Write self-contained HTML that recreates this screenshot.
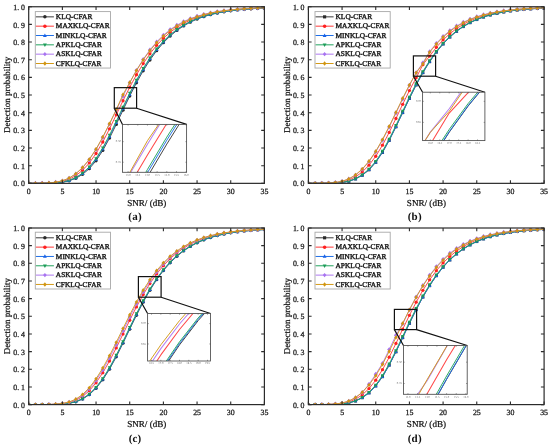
<!DOCTYPE html>
<html><head><meta charset="utf-8"><title>Detection probability vs SNR</title>
<style>html,body{margin:0;padding:0;background:#fff;}body{width:550px;height:447px;overflow:hidden;}svg{display:block;}text{text-rendering:geometricPrecision;}</style>
</head><body>
<svg width="550" height="447" viewBox="0 0 550 447">
<rect width="550" height="447" fill="#fff"/>
<clipPath id="clipa"><rect x="28.7" y="6.75" width="235.7" height="176.6"/></clipPath>
<g clip-path="url(#clipa)" fill="none" stroke-linejoin="round">
<polyline points="28.7,183.35 35.43,183.34 42.17,183.32 48.9,183.23 55.64,182.96 62.37,182.27 69.11,180.82 75.84,178.28 82.57,174.34 89.31,168.64 96.04,160.74 102.78,150.47 109.51,138.12 116.25,124.4 122.98,110.14 129.71,96.09 136.45,82.83 143.18,70.74 149.92,60 156.65,50.67 163.39,42.72 170.12,36.03 176.85,30.47 183.59,25.89 190.32,22.14 197.06,19.1 203.79,16.64 210.53,14.66 217.26,13.06 223.99,11.78 230.73,10.76 237.46,9.94 244.2,9.29 250.93,8.77 257.67,8.36 264.4,8.03" stroke="#3a3a3a" stroke-width="0.9"/>
<circle cx="28.7" cy="183.35" r="1.65" fill="#2a2a2a"/>
<circle cx="35.43" cy="183.34" r="1.65" fill="#2a2a2a"/>
<circle cx="42.17" cy="183.32" r="1.65" fill="#2a2a2a"/>
<circle cx="48.9" cy="183.23" r="1.65" fill="#2a2a2a"/>
<circle cx="55.64" cy="182.96" r="1.65" fill="#2a2a2a"/>
<circle cx="62.37" cy="182.27" r="1.65" fill="#2a2a2a"/>
<circle cx="69.11" cy="180.82" r="1.65" fill="#2a2a2a"/>
<circle cx="75.84" cy="178.28" r="1.65" fill="#2a2a2a"/>
<circle cx="82.57" cy="174.34" r="1.65" fill="#2a2a2a"/>
<circle cx="89.31" cy="168.64" r="1.65" fill="#2a2a2a"/>
<circle cx="96.04" cy="160.74" r="1.65" fill="#2a2a2a"/>
<circle cx="102.78" cy="150.47" r="1.65" fill="#2a2a2a"/>
<circle cx="109.51" cy="138.12" r="1.65" fill="#2a2a2a"/>
<circle cx="116.25" cy="124.4" r="1.65" fill="#2a2a2a"/>
<circle cx="122.98" cy="110.14" r="1.65" fill="#2a2a2a"/>
<circle cx="129.71" cy="96.09" r="1.65" fill="#2a2a2a"/>
<circle cx="136.45" cy="82.83" r="1.65" fill="#2a2a2a"/>
<circle cx="143.18" cy="70.74" r="1.65" fill="#2a2a2a"/>
<circle cx="149.92" cy="60" r="1.65" fill="#2a2a2a"/>
<circle cx="156.65" cy="50.67" r="1.65" fill="#2a2a2a"/>
<circle cx="163.39" cy="42.72" r="1.65" fill="#2a2a2a"/>
<circle cx="170.12" cy="36.03" r="1.65" fill="#2a2a2a"/>
<circle cx="176.85" cy="30.47" r="1.65" fill="#2a2a2a"/>
<circle cx="183.59" cy="25.89" r="1.65" fill="#2a2a2a"/>
<circle cx="190.32" cy="22.14" r="1.65" fill="#2a2a2a"/>
<circle cx="197.06" cy="19.1" r="1.65" fill="#2a2a2a"/>
<circle cx="203.79" cy="16.64" r="1.65" fill="#2a2a2a"/>
<circle cx="210.53" cy="14.66" r="1.65" fill="#2a2a2a"/>
<circle cx="217.26" cy="13.06" r="1.65" fill="#2a2a2a"/>
<circle cx="223.99" cy="11.78" r="1.65" fill="#2a2a2a"/>
<circle cx="230.73" cy="10.76" r="1.65" fill="#2a2a2a"/>
<circle cx="237.46" cy="9.94" r="1.65" fill="#2a2a2a"/>
<circle cx="244.2" cy="9.29" r="1.65" fill="#2a2a2a"/>
<circle cx="250.93" cy="8.77" r="1.65" fill="#2a2a2a"/>
<circle cx="257.67" cy="8.36" r="1.65" fill="#2a2a2a"/>
<circle cx="264.4" cy="8.03" r="1.65" fill="#2a2a2a"/>
<polyline points="28.7,183.34 35.43,183.32 42.17,183.26 48.9,183.08 55.64,182.6 62.37,181.48 69.11,179.29 75.84,175.63 82.57,170.25 89.31,162.94 96.04,153.51 102.78,141.99 109.51,128.85 116.25,114.84 122.98,100.75 129.71,87.25 136.45,74.77 143.18,63.58 149.92,53.78 156.65,45.37 163.39,38.26 170.12,32.32 176.85,27.42 183.59,23.39 190.32,20.12 197.06,17.46 203.79,15.32 210.53,13.59 217.26,12.21 223.99,11.1 230.73,10.22 237.46,9.51 244.2,8.95 250.93,8.5 257.67,8.14 264.4,7.85" stroke="#ff4a4a" stroke-width="1.0"/>
<circle cx="28.7" cy="183.34" r="1.65" fill="#ff2020"/>
<circle cx="35.43" cy="183.32" r="1.65" fill="#ff2020"/>
<circle cx="42.17" cy="183.26" r="1.65" fill="#ff2020"/>
<circle cx="48.9" cy="183.08" r="1.65" fill="#ff2020"/>
<circle cx="55.64" cy="182.6" r="1.65" fill="#ff2020"/>
<circle cx="62.37" cy="181.48" r="1.65" fill="#ff2020"/>
<circle cx="69.11" cy="179.29" r="1.65" fill="#ff2020"/>
<circle cx="75.84" cy="175.63" r="1.65" fill="#ff2020"/>
<circle cx="82.57" cy="170.25" r="1.65" fill="#ff2020"/>
<circle cx="89.31" cy="162.94" r="1.65" fill="#ff2020"/>
<circle cx="96.04" cy="153.51" r="1.65" fill="#ff2020"/>
<circle cx="102.78" cy="141.99" r="1.65" fill="#ff2020"/>
<circle cx="109.51" cy="128.85" r="1.65" fill="#ff2020"/>
<circle cx="116.25" cy="114.84" r="1.65" fill="#ff2020"/>
<circle cx="122.98" cy="100.75" r="1.65" fill="#ff2020"/>
<circle cx="129.71" cy="87.25" r="1.65" fill="#ff2020"/>
<circle cx="136.45" cy="74.77" r="1.65" fill="#ff2020"/>
<circle cx="143.18" cy="63.58" r="1.65" fill="#ff2020"/>
<circle cx="149.92" cy="53.78" r="1.65" fill="#ff2020"/>
<circle cx="156.65" cy="45.37" r="1.65" fill="#ff2020"/>
<circle cx="163.39" cy="38.26" r="1.65" fill="#ff2020"/>
<circle cx="170.12" cy="32.32" r="1.65" fill="#ff2020"/>
<circle cx="176.85" cy="27.42" r="1.65" fill="#ff2020"/>
<circle cx="183.59" cy="23.39" r="1.65" fill="#ff2020"/>
<circle cx="190.32" cy="20.12" r="1.65" fill="#ff2020"/>
<circle cx="197.06" cy="17.46" r="1.65" fill="#ff2020"/>
<circle cx="203.79" cy="15.32" r="1.65" fill="#ff2020"/>
<circle cx="210.53" cy="13.59" r="1.65" fill="#ff2020"/>
<circle cx="217.26" cy="12.21" r="1.65" fill="#ff2020"/>
<circle cx="223.99" cy="11.1" r="1.65" fill="#ff2020"/>
<circle cx="230.73" cy="10.22" r="1.65" fill="#ff2020"/>
<circle cx="237.46" cy="9.51" r="1.65" fill="#ff2020"/>
<circle cx="244.2" cy="8.95" r="1.65" fill="#ff2020"/>
<circle cx="250.93" cy="8.5" r="1.65" fill="#ff2020"/>
<circle cx="257.67" cy="8.14" r="1.65" fill="#ff2020"/>
<circle cx="264.4" cy="7.85" r="1.65" fill="#ff2020"/>
<polyline points="28.7,183.35 35.43,183.34 42.17,183.31 48.9,183.21 55.64,182.92 62.37,182.16 69.11,180.59 75.84,177.86 82.57,173.67 89.31,167.67 96.04,159.48 102.78,148.96 109.51,136.43 116.25,122.63 122.98,108.38 129.71,94.42 136.45,81.3 143.18,69.36 149.92,58.8 156.65,49.64 163.39,41.85 170.12,35.3 176.85,29.87 183.59,25.4 190.32,21.75 197.06,18.78 203.79,16.38 210.53,14.45 217.26,12.89 223.99,11.65 230.73,10.65 237.46,9.86 244.2,9.22 250.93,8.72 257.67,8.32 264.4,8" stroke="#1f6fe8" stroke-width="0.9"/>
<path d="M28.7 181.37L30.52 184.67L26.88 184.67Z" fill="#1a62e6"/>
<path d="M35.43 181.36L37.25 184.66L33.62 184.66Z" fill="#1a62e6"/>
<path d="M42.17 181.33L43.98 184.63L40.35 184.63Z" fill="#1a62e6"/>
<path d="M48.9 181.23L50.72 184.53L47.09 184.53Z" fill="#1a62e6"/>
<path d="M55.64 180.94L57.45 184.24L53.82 184.24Z" fill="#1a62e6"/>
<path d="M62.37 180.18L64.19 183.48L60.56 183.48Z" fill="#1a62e6"/>
<path d="M69.11 178.61L70.92 181.91L67.29 181.91Z" fill="#1a62e6"/>
<path d="M75.84 175.88L77.66 179.18L74.03 179.18Z" fill="#1a62e6"/>
<path d="M82.57 171.69L84.39 174.99L80.76 174.99Z" fill="#1a62e6"/>
<path d="M89.31 165.69L91.12 168.99L87.49 168.99Z" fill="#1a62e6"/>
<path d="M96.04 157.5L97.86 160.8L94.23 160.8Z" fill="#1a62e6"/>
<path d="M102.78 146.98L104.59 150.28L100.96 150.28Z" fill="#1a62e6"/>
<path d="M109.51 134.45L111.33 137.75L107.7 137.75Z" fill="#1a62e6"/>
<path d="M116.25 120.65L118.06 123.95L114.43 123.95Z" fill="#1a62e6"/>
<path d="M122.98 106.4L124.8 109.7L121.17 109.7Z" fill="#1a62e6"/>
<path d="M129.71 92.44L131.53 95.74L127.9 95.74Z" fill="#1a62e6"/>
<path d="M136.45 79.32L138.26 82.62L134.63 82.62Z" fill="#1a62e6"/>
<path d="M143.18 67.38L145 70.68L141.37 70.68Z" fill="#1a62e6"/>
<path d="M149.92 56.82L151.73 60.12L148.1 60.12Z" fill="#1a62e6"/>
<path d="M156.65 47.66L158.47 50.96L154.84 50.96Z" fill="#1a62e6"/>
<path d="M163.39 39.87L165.2 43.17L161.57 43.17Z" fill="#1a62e6"/>
<path d="M170.12 33.32L171.93 36.62L168.3 36.62Z" fill="#1a62e6"/>
<path d="M176.85 27.89L178.67 31.19L175.04 31.19Z" fill="#1a62e6"/>
<path d="M183.59 23.42L185.4 26.72L181.77 26.72Z" fill="#1a62e6"/>
<path d="M190.32 19.77L192.14 23.07L188.51 23.07Z" fill="#1a62e6"/>
<path d="M197.06 16.8L198.87 20.1L195.24 20.1Z" fill="#1a62e6"/>
<path d="M203.79 14.4L205.61 17.7L201.98 17.7Z" fill="#1a62e6"/>
<path d="M210.53 12.47L212.34 15.77L208.71 15.77Z" fill="#1a62e6"/>
<path d="M217.26 10.91L219.07 14.21L215.44 14.21Z" fill="#1a62e6"/>
<path d="M223.99 9.67L225.81 12.97L222.18 12.97Z" fill="#1a62e6"/>
<path d="M230.73 8.67L232.54 11.97L228.91 11.97Z" fill="#1a62e6"/>
<path d="M237.46 7.88L239.28 11.18L235.65 11.18Z" fill="#1a62e6"/>
<path d="M244.2 7.24L246.01 10.54L242.38 10.54Z" fill="#1a62e6"/>
<path d="M250.93 6.74L252.75 10.04L249.12 10.04Z" fill="#1a62e6"/>
<path d="M257.67 6.34L259.48 9.64L255.85 9.64Z" fill="#1a62e6"/>
<path d="M264.4 6.02L266.21 9.32L262.58 9.32Z" fill="#1a62e6"/>
<polyline points="28.7,183.35 35.43,183.34 42.17,183.31 48.9,183.2 55.64,182.87 62.37,182.06 69.11,180.39 75.84,177.51 82.57,173.11 89.31,166.87 96.04,158.45 102.78,147.73 109.51,135.08 116.25,121.22 122.98,106.99 129.71,93.1 136.45,80.09 143.18,68.29 149.92,57.86 156.65,48.84 163.39,41.18 170.12,34.74 176.85,29.41 183.59,25.02 190.32,21.44 197.06,18.53 203.79,16.18 210.53,14.29 217.26,12.77 223.99,11.55 230.73,10.57 237.46,9.79 244.2,9.17 250.93,8.68 257.67,8.28 264.4,7.97" stroke="#22a35e" stroke-width="0.9"/>
<path d="M28.7 185.33L30.52 182.03L26.88 182.03Z" fill="#1c9c58"/>
<path d="M35.43 185.32L37.25 182.02L33.62 182.02Z" fill="#1c9c58"/>
<path d="M42.17 185.29L43.98 181.99L40.35 181.99Z" fill="#1c9c58"/>
<path d="M48.9 185.18L50.72 181.88L47.09 181.88Z" fill="#1c9c58"/>
<path d="M55.64 184.85L57.45 181.55L53.82 181.55Z" fill="#1c9c58"/>
<path d="M62.37 184.04L64.19 180.74L60.56 180.74Z" fill="#1c9c58"/>
<path d="M69.11 182.37L70.92 179.07L67.29 179.07Z" fill="#1c9c58"/>
<path d="M75.84 179.49L77.66 176.19L74.03 176.19Z" fill="#1c9c58"/>
<path d="M82.57 175.09L84.39 171.79L80.76 171.79Z" fill="#1c9c58"/>
<path d="M89.31 168.85L91.12 165.55L87.49 165.55Z" fill="#1c9c58"/>
<path d="M96.04 160.43L97.86 157.13L94.23 157.13Z" fill="#1c9c58"/>
<path d="M102.78 149.71L104.59 146.41L100.96 146.41Z" fill="#1c9c58"/>
<path d="M109.51 137.06L111.33 133.76L107.7 133.76Z" fill="#1c9c58"/>
<path d="M116.25 123.2L118.06 119.9L114.43 119.9Z" fill="#1c9c58"/>
<path d="M122.98 108.97L124.8 105.67L121.17 105.67Z" fill="#1c9c58"/>
<path d="M129.71 95.08L131.53 91.78L127.9 91.78Z" fill="#1c9c58"/>
<path d="M136.45 82.07L138.26 78.77L134.63 78.77Z" fill="#1c9c58"/>
<path d="M143.18 70.27L145 66.97L141.37 66.97Z" fill="#1c9c58"/>
<path d="M149.92 59.84L151.73 56.54L148.1 56.54Z" fill="#1c9c58"/>
<path d="M156.65 50.82L158.47 47.52L154.84 47.52Z" fill="#1c9c58"/>
<path d="M163.39 43.16L165.2 39.86L161.57 39.86Z" fill="#1c9c58"/>
<path d="M170.12 36.72L171.93 33.42L168.3 33.42Z" fill="#1c9c58"/>
<path d="M176.85 31.39L178.67 28.09L175.04 28.09Z" fill="#1c9c58"/>
<path d="M183.59 27L185.4 23.7L181.77 23.7Z" fill="#1c9c58"/>
<path d="M190.32 23.42L192.14 20.12L188.51 20.12Z" fill="#1c9c58"/>
<path d="M197.06 20.51L198.87 17.21L195.24 17.21Z" fill="#1c9c58"/>
<path d="M203.79 18.16L205.61 14.86L201.98 14.86Z" fill="#1c9c58"/>
<path d="M210.53 16.27L212.34 12.97L208.71 12.97Z" fill="#1c9c58"/>
<path d="M217.26 14.75L219.07 11.45L215.44 11.45Z" fill="#1c9c58"/>
<path d="M223.99 13.53L225.81 10.23L222.18 10.23Z" fill="#1c9c58"/>
<path d="M230.73 12.55L232.54 9.25L228.91 9.25Z" fill="#1c9c58"/>
<path d="M237.46 11.77L239.28 8.47L235.65 8.47Z" fill="#1c9c58"/>
<path d="M244.2 11.15L246.01 7.85L242.38 7.85Z" fill="#1c9c58"/>
<path d="M250.93 10.66L252.75 7.36L249.12 7.36Z" fill="#1c9c58"/>
<path d="M257.67 10.26L259.48 6.96L255.85 6.96Z" fill="#1c9c58"/>
<path d="M264.4 9.95L266.21 6.65L262.58 6.65Z" fill="#1c9c58"/>
<polyline points="28.7,183.33 35.43,183.3 42.17,183.2 48.9,182.94 55.64,182.29 62.37,180.88 69.11,178.22 75.84,173.92 82.57,167.79 89.31,159.69 96.04,149.56 102.78,137.55 109.51,124.14 116.25,110.11 122.98,96.2 129.71,82.66 136.45,70.32 143.18,59.38 149.92,49.93 156.65,41.9 163.39,35.18 170.12,29.63 176.85,25.21 183.59,21.6 190.32,18.66 197.06,16.29 203.79,14.37 210.53,12.84 217.26,11.6 223.99,10.62 230.73,9.83 237.46,9.2 244.2,8.7 250.93,8.3 257.67,7.98 264.4,7.73" stroke="#b583f2" stroke-width="1.0"/>
<path d="M28.7 180.89L30.75 183.33L28.7 185.77L26.65 183.33Z" fill="#a874f0"/>
<path d="M35.43 180.86L37.48 183.3L35.43 185.74L33.39 183.3Z" fill="#a874f0"/>
<path d="M42.17 180.77L44.22 183.2L42.17 185.64L40.12 183.2Z" fill="#a874f0"/>
<path d="M48.9 180.5L50.95 182.94L48.9 185.38L46.86 182.94Z" fill="#a874f0"/>
<path d="M55.64 179.86L57.68 182.29L55.64 184.73L53.59 182.29Z" fill="#a874f0"/>
<path d="M62.37 178.44L64.42 180.88L62.37 183.32L60.32 180.88Z" fill="#a874f0"/>
<path d="M69.11 175.78L71.15 178.22L69.11 180.66L67.06 178.22Z" fill="#a874f0"/>
<path d="M75.84 171.49L77.89 173.92L75.84 176.36L73.79 173.92Z" fill="#a874f0"/>
<path d="M82.57 165.35L84.62 167.79L82.57 170.22L80.53 167.79Z" fill="#a874f0"/>
<path d="M89.31 157.25L91.36 159.69L89.31 162.13L87.26 159.69Z" fill="#a874f0"/>
<path d="M96.04 147.13L98.09 149.56L96.04 152L94 149.56Z" fill="#a874f0"/>
<path d="M102.78 135.11L104.82 137.55L102.78 139.98L100.73 137.55Z" fill="#a874f0"/>
<path d="M109.51 121.7L111.56 124.14L109.51 126.58L107.46 124.14Z" fill="#a874f0"/>
<path d="M116.25 107.67L118.29 110.11L116.25 112.54L114.2 110.11Z" fill="#a874f0"/>
<path d="M122.98 93.77L125.03 96.2L122.98 98.64L120.93 96.2Z" fill="#a874f0"/>
<path d="M129.71 80.23L131.76 82.66L129.71 85.1L127.67 82.66Z" fill="#a874f0"/>
<path d="M136.45 67.88L138.5 70.32L136.45 72.75L134.4 70.32Z" fill="#a874f0"/>
<path d="M143.18 56.95L145.23 59.38L143.18 61.82L141.14 59.38Z" fill="#a874f0"/>
<path d="M149.92 47.49L151.96 49.93L149.92 52.36L147.87 49.93Z" fill="#a874f0"/>
<path d="M156.65 39.46L158.7 41.9L156.65 44.34L154.6 41.9Z" fill="#a874f0"/>
<path d="M163.39 32.75L165.43 35.18L163.39 37.62L161.34 35.18Z" fill="#a874f0"/>
<path d="M170.12 27.2L172.17 29.63L170.12 32.07L168.07 29.63Z" fill="#a874f0"/>
<path d="M176.85 22.77L178.9 25.21L176.85 27.65L174.81 25.21Z" fill="#a874f0"/>
<path d="M183.59 19.16L185.64 21.6L183.59 24.03L181.54 21.6Z" fill="#a874f0"/>
<path d="M190.32 16.22L192.37 18.66L190.32 21.1L188.28 18.66Z" fill="#a874f0"/>
<path d="M197.06 13.85L199.1 16.29L197.06 18.72L195.01 16.29Z" fill="#a874f0"/>
<path d="M203.79 11.94L205.84 14.37L203.79 16.81L201.74 14.37Z" fill="#a874f0"/>
<path d="M210.53 10.4L212.57 12.84L210.53 15.27L208.48 12.84Z" fill="#a874f0"/>
<path d="M217.26 9.17L219.31 11.6L217.26 14.04L215.21 11.6Z" fill="#a874f0"/>
<path d="M223.99 8.18L226.04 10.62L223.99 13.05L221.95 10.62Z" fill="#a874f0"/>
<path d="M230.73 7.39L232.78 9.83L230.73 12.27L228.68 9.83Z" fill="#a874f0"/>
<path d="M237.46 6.76L239.51 9.2L237.46 11.64L235.42 9.2Z" fill="#a874f0"/>
<path d="M244.2 6.26L246.24 8.7L244.2 11.14L242.15 8.7Z" fill="#a874f0"/>
<path d="M250.93 5.86L252.98 8.3L250.93 10.74L248.88 8.3Z" fill="#a874f0"/>
<path d="M257.67 5.55L259.71 7.98L257.67 10.42L255.62 7.98Z" fill="#a874f0"/>
<path d="M264.4 5.29L266.45 7.73L264.4 10.17L262.35 7.73Z" fill="#a874f0"/>
<polyline points="28.7,183.33 35.43,183.3 42.17,183.19 48.9,182.92 55.64,182.25 62.37,180.8 69.11,178.09 75.84,173.72 82.57,167.49 89.31,159.31 96.04,149.11 102.78,137.04 109.51,123.61 116.25,109.58 122.98,94.64 129.71,82.57 136.45,70.57 143.18,59.89 149.92,50.61 156.65,42.69 163.39,36.02 170.12,30.47 176.85,25.89 183.59,22.15 190.32,19.11 197.06,16.65 203.79,14.66 210.53,13.07 217.26,11.79 223.99,10.77 230.73,9.95 237.46,9.3 244.2,8.78 250.93,8.36 257.67,8.03 264.4,7.77" stroke="#d49a17" stroke-width="0.9"/>
<path d="M28.7 181.27L30.43 183.33L28.7 185.39L26.97 183.33Z" fill="#d09512"/>
<path d="M35.43 181.23L37.17 183.3L35.43 185.36L33.7 183.3Z" fill="#d09512"/>
<path d="M42.17 181.13L43.9 183.19L42.17 185.26L40.44 183.19Z" fill="#d09512"/>
<path d="M48.9 180.86L50.64 182.92L48.9 184.99L47.17 182.92Z" fill="#d09512"/>
<path d="M55.64 180.19L57.37 182.25L55.64 184.32L53.9 182.25Z" fill="#d09512"/>
<path d="M62.37 178.74L64.1 180.8L62.37 182.86L60.64 180.8Z" fill="#d09512"/>
<path d="M69.11 176.02L70.84 178.09L69.11 180.15L67.37 178.09Z" fill="#d09512"/>
<path d="M75.84 171.65L77.57 173.72L75.84 175.78L74.11 173.72Z" fill="#d09512"/>
<path d="M82.57 165.43L84.31 167.49L82.57 169.56L80.84 167.49Z" fill="#d09512"/>
<path d="M89.31 157.25L91.04 159.31L89.31 161.37L87.58 159.31Z" fill="#d09512"/>
<path d="M96.04 147.05L97.78 149.11L96.04 151.17L94.31 149.11Z" fill="#d09512"/>
<path d="M102.78 134.98L104.51 137.04L102.78 139.1L101.04 137.04Z" fill="#d09512"/>
<path d="M109.51 121.55L111.24 123.61L109.51 125.67L107.78 123.61Z" fill="#d09512"/>
<path d="M116.25 107.52L117.98 109.58L116.25 111.64L114.51 109.58Z" fill="#d09512"/>
<path d="M122.98 92.58L124.71 94.64L122.98 96.71L121.25 94.64Z" fill="#d09512"/>
<path d="M129.71 80.51L131.45 82.57L129.71 84.63L127.98 82.57Z" fill="#d09512"/>
<path d="M136.45 68.5L138.18 70.57L136.45 72.63L134.72 70.57Z" fill="#d09512"/>
<path d="M143.18 57.83L144.92 59.89L143.18 61.95L141.45 59.89Z" fill="#d09512"/>
<path d="M149.92 48.55L151.65 50.61L149.92 52.67L148.18 50.61Z" fill="#d09512"/>
<path d="M156.65 40.62L158.38 42.69L156.65 44.75L154.92 42.69Z" fill="#d09512"/>
<path d="M163.39 33.95L165.12 36.02L163.39 38.08L161.65 36.02Z" fill="#d09512"/>
<path d="M170.12 28.4L171.85 30.47L170.12 32.53L168.39 30.47Z" fill="#d09512"/>
<path d="M176.85 23.83L178.59 25.89L176.85 27.96L175.12 25.89Z" fill="#d09512"/>
<path d="M183.59 20.09L185.32 22.15L183.59 24.22L181.86 22.15Z" fill="#d09512"/>
<path d="M190.32 17.05L192.06 19.11L190.32 21.17L188.59 19.11Z" fill="#d09512"/>
<path d="M197.06 14.59L198.79 16.65L197.06 18.71L195.32 16.65Z" fill="#d09512"/>
<path d="M203.79 12.6L205.52 14.66L203.79 16.73L202.06 14.66Z" fill="#d09512"/>
<path d="M210.53 11.01L212.26 13.07L210.53 15.13L208.79 13.07Z" fill="#d09512"/>
<path d="M217.26 9.73L218.99 11.79L217.26 13.85L215.53 11.79Z" fill="#d09512"/>
<path d="M223.99 8.7L225.73 10.77L223.99 12.83L222.26 10.77Z" fill="#d09512"/>
<path d="M230.73 7.89L232.46 9.95L230.73 12.01L229 9.95Z" fill="#d09512"/>
<path d="M237.46 7.23L239.2 9.3L237.46 11.36L235.73 9.3Z" fill="#d09512"/>
<path d="M244.2 6.71L245.93 8.78L244.2 10.84L242.46 8.78Z" fill="#d09512"/>
<path d="M250.93 6.3L252.66 8.36L250.93 10.42L249.2 8.36Z" fill="#d09512"/>
<path d="M257.67 5.97L259.4 8.03L257.67 10.09L255.93 8.03Z" fill="#d09512"/>
<path d="M264.4 5.71L266.13 7.77L264.4 9.83L262.67 7.77Z" fill="#d09512"/>
</g>
<rect x="28.7" y="6.75" width="235.7" height="176.6" fill="none" stroke="#2b2b2b" stroke-width="1.2"/>
<path d="M28.7 183.35v-3.2M28.7 6.75v3.2M62.37 183.35v-3.2M62.37 6.75v3.2M96.04 183.35v-3.2M96.04 6.75v3.2M129.71 183.35v-3.2M129.71 6.75v3.2M163.39 183.35v-3.2M163.39 6.75v3.2M197.06 183.35v-3.2M197.06 6.75v3.2M230.73 183.35v-3.2M230.73 6.75v3.2M264.4 183.35v-3.2M264.4 6.75v3.2M28.7 183.35h3.2M264.4 183.35h-3.2M28.7 165.69h3.2M264.4 165.69h-3.2M28.7 148.03h3.2M264.4 148.03h-3.2M28.7 130.37h3.2M264.4 130.37h-3.2M28.7 112.71h3.2M264.4 112.71h-3.2M28.7 95.05h3.2M264.4 95.05h-3.2M28.7 77.39h3.2M264.4 77.39h-3.2M28.7 59.73h3.2M264.4 59.73h-3.2M28.7 42.07h3.2M264.4 42.07h-3.2M28.7 24.41h3.2M264.4 24.41h-3.2M28.7 6.75h3.2M264.4 6.75h-3.2" stroke="#2b2b2b" stroke-width="1.1" fill="none"/>
<g font-family="'Liberation Serif', 'Times New Roman', serif" font-size="7.9" fill="#262626" stroke="#262626" stroke-width="0.28" letter-spacing="-0.08"><text x="28.7" y="193.95" text-anchor="middle">0</text><text x="62.37" y="193.95" text-anchor="middle">5</text><text x="96.04" y="193.95" text-anchor="middle">10</text><text x="129.71" y="193.95" text-anchor="middle">15</text><text x="163.39" y="193.95" text-anchor="middle">20</text><text x="197.06" y="193.95" text-anchor="middle">25</text><text x="230.73" y="193.95" text-anchor="middle">30</text><text x="264.4" y="193.95" text-anchor="middle">35</text><text x="24.8" y="186.45" text-anchor="end">0. 0</text><text x="24.8" y="168.79" text-anchor="end">0. 1</text><text x="24.8" y="151.13" text-anchor="end">0. 2</text><text x="24.8" y="133.47" text-anchor="end">0. 3</text><text x="24.8" y="115.81" text-anchor="end">0. 4</text><text x="24.8" y="98.15" text-anchor="end">0. 5</text><text x="24.8" y="80.49" text-anchor="end">0. 6</text><text x="24.8" y="62.83" text-anchor="end">0. 7</text><text x="24.8" y="45.17" text-anchor="end">0. 8</text><text x="24.8" y="27.51" text-anchor="end">0. 9</text><text x="24.8" y="9.85" text-anchor="end">1. 0</text></g>
<text x="146.75" y="205.85" text-anchor="middle" font-family="'Liberation Serif', 'Times New Roman', serif" font-size="9.1" fill="#111" stroke="#111" stroke-width="0.22">SNR/ (dB)</text>
<text transform="translate(9.8 94.95) rotate(-90)" text-anchor="middle" font-family="'Liberation Serif', 'Times New Roman', serif" font-size="8.95" fill="#111" stroke="#111" stroke-width="0.22">Detection probability</text>
<text x="135.05" y="220.45" text-anchor="middle" font-family="'Liberation Serif', 'Times New Roman', serif" font-size="11" font-weight="bold" fill="#111" letter-spacing="0.2">(a)</text>
<rect x="35.3" y="11.6" width="75.2" height="56.45" fill="#fff" stroke="#a8a8a8" stroke-width="0.9"/>
<line x1="35.9" y1="16.85" x2="53.9" y2="16.85" stroke="#3a3a3a" stroke-width="1.0"/>
<circle cx="44.9" cy="16.85" r="1.75" fill="#2a2a2a"/>
<text x="55.8" y="19.05" font-family="'Liberation Serif', 'Times New Roman', serif" font-size="7.35" fill="#1a1a1a" stroke="#1a1a1a" stroke-width="0.4" letter-spacing="0.05">KLQ-CFAR</text>
<line x1="35.9" y1="26.18" x2="53.9" y2="26.18" stroke="#ff4a4a" stroke-width="1.1"/>
<circle cx="44.9" cy="26.18" r="1.75" fill="#ff2020"/>
<text x="55.8" y="28.38" font-family="'Liberation Serif', 'Times New Roman', serif" font-size="7.35" fill="#1a1a1a" stroke="#1a1a1a" stroke-width="0.4" letter-spacing="0.05">MAXKLQ-CFAR</text>
<line x1="35.9" y1="35.51" x2="53.9" y2="35.51" stroke="#1f6fe8" stroke-width="1.0"/>
<path d="M44.9 33.41L46.82 36.91L42.98 36.91Z" fill="#1a62e6"/>
<text x="55.8" y="37.71" font-family="'Liberation Serif', 'Times New Roman', serif" font-size="7.35" fill="#1a1a1a" stroke="#1a1a1a" stroke-width="0.4" letter-spacing="0.05">MINKLQ-CFAR</text>
<line x1="35.9" y1="44.84" x2="53.9" y2="44.84" stroke="#22a35e" stroke-width="1.0"/>
<path d="M44.9 46.94L46.82 43.44L42.98 43.44Z" fill="#1c9c58"/>
<text x="55.8" y="47.04" font-family="'Liberation Serif', 'Times New Roman', serif" font-size="7.35" fill="#1a1a1a" stroke="#1a1a1a" stroke-width="0.4" letter-spacing="0.05">APKLQ-CFAR</text>
<line x1="35.9" y1="54.17" x2="53.9" y2="54.17" stroke="#b583f2" stroke-width="1.1"/>
<path d="M44.9 51.98L46.74 54.17L44.9 56.36L43.06 54.17Z" fill="#a874f0"/>
<text x="55.8" y="56.37" font-family="'Liberation Serif', 'Times New Roman', serif" font-size="7.35" fill="#1a1a1a" stroke="#1a1a1a" stroke-width="0.4" letter-spacing="0.05">ASKLQ-CFAR</text>
<line x1="35.9" y1="63.5" x2="53.9" y2="63.5" stroke="#d49a17" stroke-width="1.0"/>
<path d="M44.9 61.31L46.74 63.5L44.9 65.69L43.06 63.5Z" fill="#d09512"/>
<text x="55.8" y="65.7" font-family="'Liberation Serif', 'Times New Roman', serif" font-size="7.35" fill="#1a1a1a" stroke="#1a1a1a" stroke-width="0.4" letter-spacing="0.05">CFKLQ-CFAR</text>
<rect x="114.3" y="87.65" width="22.3" height="20.55" fill="none" stroke="#111" stroke-width="1.2"/>
<path d="M114.3 108.2L122.5 124.4M136.6 108.2L186.6 124.4" stroke="#111" stroke-width="1.2" fill="none"/>
<rect x="122.5" y="124.4" width="64.1" height="47.9" fill="#fff"/>
<clipPath id="clipia"><rect x="122.5" y="124.4" width="64.1" height="47.9"/></clipPath>
<g clip-path="url(#clipia)" fill="none" stroke-linejoin="round">
<polyline points="89.38,270.83 108.74,242.04 128.09,210.05 147.45,176.81 166.81,144.08 186.16,113.18 205.52,84.98 224.88,59.94" stroke="#3a3a3a" stroke-width="0.9500000000000001"/>
<polyline points="89.38,251.07 108.74,220.43 128.09,187.77 147.45,154.94 166.81,123.46 186.16,94.38 205.52,68.29 224.88,45.46" stroke="#ff4a4a" stroke-width="1.05"/>
<polyline points="89.38,267.3 108.74,238.1 128.09,205.93 147.45,172.71 166.81,140.17 186.16,109.59 205.52,81.78 224.88,57.15" stroke="#1f6fe8" stroke-width="0.9500000000000001"/>
<polyline points="89.38,264.45 108.74,234.95 128.09,202.65 147.45,169.47 166.81,137.1 186.16,106.77 205.52,79.27 224.88,54.97" stroke="#22a35e" stroke-width="0.9500000000000001"/>
<polyline points="89.38,240.7 108.74,209.45 128.09,176.74 147.45,144.34 166.81,112.78 186.16,84 205.52,58.52 224.88,36.47" stroke="#b583f2" stroke-width="1.05"/>
<polyline points="89.38,239.53 108.74,208.22 128.09,175.51 147.45,140.7 166.81,112.56 186.16,84.58 205.52,59.7 224.88,38.07" stroke="#d49a17" stroke-width="0.9500000000000001"/>
</g>
<rect x="122.5" y="124.4" width="64.1" height="47.9" fill="none" stroke="#4a4a4a" stroke-width="0.85"/>
<path d="M128.09 172.3v-1.2M128.09 124.4v1.2M137.77 172.3v-1.2M137.77 124.4v1.2M147.45 172.3v-1.2M147.45 124.4v1.2M157.13 172.3v-1.2M157.13 124.4v1.2M166.81 172.3v-1.2M166.81 124.4v1.2M176.49 172.3v-1.2M176.49 124.4v1.2M186.16 172.3v-1.2M186.16 124.4v1.2M122.5 162.23h1.2M186.6 162.23h-1.2M122.5 141.65h1.2M186.6 141.65h-1.2" stroke="#444" stroke-width="0.5" fill="none"/>
<g font-family="'Liberation Serif', 'Times New Roman', serif" font-size="2.9" fill="#666"><text x="128.09" y="175.7" text-anchor="middle">13.0</text><text x="137.77" y="175.7" text-anchor="middle">13.5</text><text x="147.45" y="175.7" text-anchor="middle">14.0</text><text x="157.13" y="175.7" text-anchor="middle">14.5</text><text x="166.81" y="175.7" text-anchor="middle">15.0</text><text x="176.49" y="175.7" text-anchor="middle">15.5</text><text x="186.16" y="175.7" text-anchor="middle">16.0</text><text x="120.9" y="163.03" text-anchor="end">0.45</text><text x="120.9" y="142.45" text-anchor="end">0.50</text></g>
<clipPath id="clipb"><rect x="308.4" y="6.75" width="235.7" height="176.6"/></clipPath>
<g clip-path="url(#clipb)" fill="none" stroke-linejoin="round">
<polyline points="308.4,183.35 315.13,183.34 321.87,183.33 328.6,183.27 335.34,183.06 342.07,182.5 348.81,181.25 355.54,178.93 362.27,175.24 369.01,169.84 375.74,162.32 382.48,152.45 389.21,140.41 395.95,126.85 402.68,112.61 409.41,98.47 416.15,85.03 422.88,72.7 429.62,61.72 436.35,52.15 443.09,43.96 449.82,37.07 456.55,31.33 463.29,26.59 470.02,22.72 476.76,19.57 483.49,17.02 490.23,14.96 496.96,13.3 503.69,11.98 510.43,10.92 517.16,10.07 523.9,9.39 530.63,8.85 537.37,8.42 544.1,8.08" stroke="#3a3a3a" stroke-width="0.9"/>
<rect x="306.91" y="181.86" width="2.97" height="2.97" fill="#2a2a2a"/>
<rect x="313.65" y="181.86" width="2.97" height="2.97" fill="#2a2a2a"/>
<rect x="320.38" y="181.84" width="2.97" height="2.97" fill="#2a2a2a"/>
<rect x="327.12" y="181.78" width="2.97" height="2.97" fill="#2a2a2a"/>
<rect x="333.85" y="181.58" width="2.97" height="2.97" fill="#2a2a2a"/>
<rect x="340.59" y="181.02" width="2.97" height="2.97" fill="#2a2a2a"/>
<rect x="347.32" y="179.76" width="2.97" height="2.97" fill="#2a2a2a"/>
<rect x="354.05" y="177.45" width="2.97" height="2.97" fill="#2a2a2a"/>
<rect x="360.79" y="173.76" width="2.97" height="2.97" fill="#2a2a2a"/>
<rect x="367.52" y="168.35" width="2.97" height="2.97" fill="#2a2a2a"/>
<rect x="374.26" y="160.83" width="2.97" height="2.97" fill="#2a2a2a"/>
<rect x="380.99" y="150.96" width="2.97" height="2.97" fill="#2a2a2a"/>
<rect x="387.73" y="138.93" width="2.97" height="2.97" fill="#2a2a2a"/>
<rect x="394.46" y="125.37" width="2.97" height="2.97" fill="#2a2a2a"/>
<rect x="401.19" y="111.13" width="2.97" height="2.97" fill="#2a2a2a"/>
<rect x="407.93" y="96.98" width="2.97" height="2.97" fill="#2a2a2a"/>
<rect x="414.66" y="83.54" width="2.97" height="2.97" fill="#2a2a2a"/>
<rect x="421.4" y="71.22" width="2.97" height="2.97" fill="#2a2a2a"/>
<rect x="428.13" y="60.23" width="2.97" height="2.97" fill="#2a2a2a"/>
<rect x="434.87" y="50.66" width="2.97" height="2.97" fill="#2a2a2a"/>
<rect x="441.6" y="42.48" width="2.97" height="2.97" fill="#2a2a2a"/>
<rect x="448.33" y="35.58" width="2.97" height="2.97" fill="#2a2a2a"/>
<rect x="455.07" y="29.84" width="2.97" height="2.97" fill="#2a2a2a"/>
<rect x="461.8" y="25.11" width="2.97" height="2.97" fill="#2a2a2a"/>
<rect x="468.54" y="21.23" width="2.97" height="2.97" fill="#2a2a2a"/>
<rect x="475.27" y="18.08" width="2.97" height="2.97" fill="#2a2a2a"/>
<rect x="482.01" y="15.53" width="2.97" height="2.97" fill="#2a2a2a"/>
<rect x="488.74" y="13.47" width="2.97" height="2.97" fill="#2a2a2a"/>
<rect x="495.47" y="11.82" width="2.97" height="2.97" fill="#2a2a2a"/>
<rect x="502.21" y="10.49" width="2.97" height="2.97" fill="#2a2a2a"/>
<rect x="508.94" y="9.43" width="2.97" height="2.97" fill="#2a2a2a"/>
<rect x="515.68" y="8.58" width="2.97" height="2.97" fill="#2a2a2a"/>
<rect x="522.41" y="7.91" width="2.97" height="2.97" fill="#2a2a2a"/>
<rect x="529.15" y="7.37" width="2.97" height="2.97" fill="#2a2a2a"/>
<rect x="535.88" y="6.94" width="2.97" height="2.97" fill="#2a2a2a"/>
<rect x="542.61" y="6.59" width="2.97" height="2.97" fill="#2a2a2a"/>
<polyline points="308.4,183.35 315.13,183.33 321.87,183.29 328.6,183.17 335.34,182.81 342.07,181.93 348.81,180.1 355.54,176.88 362.27,171.97 369.01,165.16 375.74,156.25 382.48,145.21 389.21,132.38 395.95,118.48 402.68,104.31 409.41,90.57 416.15,77.79 422.88,64.65 429.62,56.09 436.35,47.33 443.09,39.9 449.82,33.69 456.55,28.54 463.29,24.31 470.02,20.86 476.76,18.06 483.49,15.8 490.23,13.98 496.96,12.52 503.69,11.35 510.43,10.42 517.16,9.67 523.9,9.07 530.63,8.6 537.37,8.22 544.1,7.92" stroke="#ff4a4a" stroke-width="1.0"/>
<circle cx="308.4" cy="183.35" r="1.65" fill="#ff2020"/>
<circle cx="315.13" cy="183.33" r="1.65" fill="#ff2020"/>
<circle cx="321.87" cy="183.29" r="1.65" fill="#ff2020"/>
<circle cx="328.6" cy="183.17" r="1.65" fill="#ff2020"/>
<circle cx="335.34" cy="182.81" r="1.65" fill="#ff2020"/>
<circle cx="342.07" cy="181.93" r="1.65" fill="#ff2020"/>
<circle cx="348.81" cy="180.1" r="1.65" fill="#ff2020"/>
<circle cx="355.54" cy="176.88" r="1.65" fill="#ff2020"/>
<circle cx="362.27" cy="171.97" r="1.65" fill="#ff2020"/>
<circle cx="369.01" cy="165.16" r="1.65" fill="#ff2020"/>
<circle cx="375.74" cy="156.25" r="1.65" fill="#ff2020"/>
<circle cx="382.48" cy="145.21" r="1.65" fill="#ff2020"/>
<circle cx="389.21" cy="132.38" r="1.65" fill="#ff2020"/>
<circle cx="395.95" cy="118.48" r="1.65" fill="#ff2020"/>
<circle cx="402.68" cy="104.31" r="1.65" fill="#ff2020"/>
<circle cx="409.41" cy="90.57" r="1.65" fill="#ff2020"/>
<circle cx="416.15" cy="77.79" r="1.65" fill="#ff2020"/>
<circle cx="422.88" cy="64.65" r="1.65" fill="#ff2020"/>
<circle cx="429.62" cy="56.09" r="1.65" fill="#ff2020"/>
<circle cx="436.35" cy="47.33" r="1.65" fill="#ff2020"/>
<circle cx="443.09" cy="39.9" r="1.65" fill="#ff2020"/>
<circle cx="449.82" cy="33.69" r="1.65" fill="#ff2020"/>
<circle cx="456.55" cy="28.54" r="1.65" fill="#ff2020"/>
<circle cx="463.29" cy="24.31" r="1.65" fill="#ff2020"/>
<circle cx="470.02" cy="20.86" r="1.65" fill="#ff2020"/>
<circle cx="476.76" cy="18.06" r="1.65" fill="#ff2020"/>
<circle cx="483.49" cy="15.8" r="1.65" fill="#ff2020"/>
<circle cx="490.23" cy="13.98" r="1.65" fill="#ff2020"/>
<circle cx="496.96" cy="12.52" r="1.65" fill="#ff2020"/>
<circle cx="503.69" cy="11.35" r="1.65" fill="#ff2020"/>
<circle cx="510.43" cy="10.42" r="1.65" fill="#ff2020"/>
<circle cx="517.16" cy="9.67" r="1.65" fill="#ff2020"/>
<circle cx="523.9" cy="9.07" r="1.65" fill="#ff2020"/>
<circle cx="530.63" cy="8.6" r="1.65" fill="#ff2020"/>
<circle cx="537.37" cy="8.22" r="1.65" fill="#ff2020"/>
<circle cx="544.1" cy="7.92" r="1.65" fill="#ff2020"/>
<polyline points="308.4,183.35 315.13,183.34 321.87,183.33 328.6,183.27 335.34,183.06 342.07,182.49 348.81,181.22 355.54,178.88 362.27,175.15 369.01,169.7 375.74,162.14 382.48,152.22 389.21,140.16 395.95,126.58 402.68,112.34 409.41,98.2 416.15,84.79 422.88,72.49 429.62,61.53 436.35,51.98 443.09,43.83 449.82,36.95 456.55,31.23 463.29,26.51 470.02,22.65 476.76,19.51 483.49,16.97 490.23,14.92 496.96,13.28 503.69,11.96 510.43,10.9 517.16,10.05 523.9,9.38 530.63,8.84 537.37,8.41 544.1,8.07" stroke="#1f6fe8" stroke-width="0.9"/>
<path d="M308.4 181.37L310.21 184.67L306.58 184.67Z" fill="#1a62e6"/>
<path d="M315.13 181.36L316.95 184.66L313.32 184.66Z" fill="#1a62e6"/>
<path d="M321.87 181.35L323.68 184.65L320.05 184.65Z" fill="#1a62e6"/>
<path d="M328.6 181.29L330.42 184.59L326.79 184.59Z" fill="#1a62e6"/>
<path d="M335.34 181.08L337.15 184.38L333.52 184.38Z" fill="#1a62e6"/>
<path d="M342.07 180.51L343.89 183.81L340.26 183.81Z" fill="#1a62e6"/>
<path d="M348.81 179.24L350.62 182.54L346.99 182.54Z" fill="#1a62e6"/>
<path d="M355.54 176.9L357.35 180.2L353.72 180.2Z" fill="#1a62e6"/>
<path d="M362.27 173.17L364.09 176.47L360.46 176.47Z" fill="#1a62e6"/>
<path d="M369.01 167.72L370.82 171.02L367.19 171.02Z" fill="#1a62e6"/>
<path d="M375.74 160.16L377.56 163.46L373.93 163.46Z" fill="#1a62e6"/>
<path d="M382.48 150.24L384.29 153.54L380.66 153.54Z" fill="#1a62e6"/>
<path d="M389.21 138.18L391.03 141.48L387.4 141.48Z" fill="#1a62e6"/>
<path d="M395.95 124.6L397.76 127.9L394.13 127.9Z" fill="#1a62e6"/>
<path d="M402.68 110.36L404.49 113.66L400.86 113.66Z" fill="#1a62e6"/>
<path d="M409.41 96.22L411.23 99.52L407.6 99.52Z" fill="#1a62e6"/>
<path d="M416.15 82.81L417.96 86.11L414.33 86.11Z" fill="#1a62e6"/>
<path d="M422.88 70.51L424.7 73.81L421.07 73.81Z" fill="#1a62e6"/>
<path d="M429.62 59.55L431.43 62.85L427.8 62.85Z" fill="#1a62e6"/>
<path d="M436.35 50L438.17 53.3L434.54 53.3Z" fill="#1a62e6"/>
<path d="M443.09 41.85L444.9 45.15L441.27 45.15Z" fill="#1a62e6"/>
<path d="M449.82 34.97L451.63 38.27L448 38.27Z" fill="#1a62e6"/>
<path d="M456.55 29.25L458.37 32.55L454.74 32.55Z" fill="#1a62e6"/>
<path d="M463.29 24.53L465.1 27.83L461.47 27.83Z" fill="#1a62e6"/>
<path d="M470.02 20.67L471.84 23.97L468.21 23.97Z" fill="#1a62e6"/>
<path d="M476.76 17.53L478.57 20.83L474.94 20.83Z" fill="#1a62e6"/>
<path d="M483.49 14.99L485.31 18.29L481.68 18.29Z" fill="#1a62e6"/>
<path d="M490.23 12.94L492.04 16.24L488.41 16.24Z" fill="#1a62e6"/>
<path d="M496.96 11.3L498.77 14.6L495.14 14.6Z" fill="#1a62e6"/>
<path d="M503.69 9.98L505.51 13.28L501.88 13.28Z" fill="#1a62e6"/>
<path d="M510.43 8.92L512.24 12.22L508.61 12.22Z" fill="#1a62e6"/>
<path d="M517.16 8.07L518.98 11.37L515.35 11.37Z" fill="#1a62e6"/>
<path d="M523.9 7.4L525.71 10.7L522.08 10.7Z" fill="#1a62e6"/>
<path d="M530.63 6.86L532.45 10.16L528.82 10.16Z" fill="#1a62e6"/>
<path d="M537.37 6.43L539.18 9.73L535.55 9.73Z" fill="#1a62e6"/>
<path d="M544.1 6.09L545.91 9.39L542.28 9.39Z" fill="#1a62e6"/>
<polyline points="308.4,183.35 315.13,183.34 321.87,183.32 328.6,183.26 335.34,183.03 342.07,182.42 348.81,181.08 355.54,178.62 362.27,174.72 369.01,169.06 375.74,161.29 382.48,151.19 389.21,138.99 395.95,125.35 402.68,111.11 409.41,97.02 416.15,83.69 422.88,71.51 429.62,60.67 436.35,51.25 443.09,43.2 449.82,36.43 456.55,30.8 463.29,26.16 470.02,22.37 476.76,19.28 483.49,16.79 490.23,14.77 496.96,13.16 503.69,11.86 510.43,10.82 517.16,9.99 523.9,9.33 530.63,8.8 537.37,8.38 544.1,8.05" stroke="#22a35e" stroke-width="0.9"/>
<path d="M308.4 185.33L310.21 182.03L306.58 182.03Z" fill="#1c9c58"/>
<path d="M315.13 185.32L316.95 182.02L313.32 182.02Z" fill="#1c9c58"/>
<path d="M321.87 185.3L323.68 182L320.05 182Z" fill="#1c9c58"/>
<path d="M328.6 185.24L330.42 181.94L326.79 181.94Z" fill="#1c9c58"/>
<path d="M335.34 185.01L337.15 181.71L333.52 181.71Z" fill="#1c9c58"/>
<path d="M342.07 184.4L343.89 181.1L340.26 181.1Z" fill="#1c9c58"/>
<path d="M348.81 183.06L350.62 179.76L346.99 179.76Z" fill="#1c9c58"/>
<path d="M355.54 180.6L357.35 177.3L353.72 177.3Z" fill="#1c9c58"/>
<path d="M362.27 176.7L364.09 173.4L360.46 173.4Z" fill="#1c9c58"/>
<path d="M369.01 171.04L370.82 167.74L367.19 167.74Z" fill="#1c9c58"/>
<path d="M375.74 163.27L377.56 159.97L373.93 159.97Z" fill="#1c9c58"/>
<path d="M382.48 153.17L384.29 149.87L380.66 149.87Z" fill="#1c9c58"/>
<path d="M389.21 140.97L391.03 137.67L387.4 137.67Z" fill="#1c9c58"/>
<path d="M395.95 127.33L397.76 124.03L394.13 124.03Z" fill="#1c9c58"/>
<path d="M402.68 113.09L404.49 109.79L400.86 109.79Z" fill="#1c9c58"/>
<path d="M409.41 99L411.23 95.7L407.6 95.7Z" fill="#1c9c58"/>
<path d="M416.15 85.67L417.96 82.37L414.33 82.37Z" fill="#1c9c58"/>
<path d="M422.88 73.49L424.7 70.19L421.07 70.19Z" fill="#1c9c58"/>
<path d="M429.62 62.65L431.43 59.35L427.8 59.35Z" fill="#1c9c58"/>
<path d="M436.35 53.23L438.17 49.93L434.54 49.93Z" fill="#1c9c58"/>
<path d="M443.09 45.18L444.9 41.88L441.27 41.88Z" fill="#1c9c58"/>
<path d="M449.82 38.41L451.63 35.11L448 35.11Z" fill="#1c9c58"/>
<path d="M456.55 32.78L458.37 29.48L454.74 29.48Z" fill="#1c9c58"/>
<path d="M463.29 28.14L465.1 24.84L461.47 24.84Z" fill="#1c9c58"/>
<path d="M470.02 24.35L471.84 21.05L468.21 21.05Z" fill="#1c9c58"/>
<path d="M476.76 21.26L478.57 17.96L474.94 17.96Z" fill="#1c9c58"/>
<path d="M483.49 18.77L485.31 15.47L481.68 15.47Z" fill="#1c9c58"/>
<path d="M490.23 16.75L492.04 13.45L488.41 13.45Z" fill="#1c9c58"/>
<path d="M496.96 15.14L498.77 11.84L495.14 11.84Z" fill="#1c9c58"/>
<path d="M503.69 13.84L505.51 10.54L501.88 10.54Z" fill="#1c9c58"/>
<path d="M510.43 12.8L512.24 9.5L508.61 9.5Z" fill="#1c9c58"/>
<path d="M517.16 11.97L518.98 8.67L515.35 8.67Z" fill="#1c9c58"/>
<path d="M523.9 11.31L525.71 8.01L522.08 8.01Z" fill="#1c9c58"/>
<path d="M530.63 10.78L532.45 7.48L528.82 7.48Z" fill="#1c9c58"/>
<path d="M537.37 10.36L539.18 7.06L535.55 7.06Z" fill="#1c9c58"/>
<path d="M544.1 10.03L545.91 6.73L542.28 6.73Z" fill="#1c9c58"/>
<polyline points="308.4,183.34 315.13,183.32 321.87,183.25 328.6,183.05 335.34,182.53 342.07,181.36 348.81,179.04 355.54,175.12 362.27,169.36 369.01,161.63 375.74,151.88 382.48,140.19 389.21,126.99 395.95,113 402.68,98.99 409.41,85.25 416.15,72.65 422.88,62.84 429.62,51.68 436.35,43.38 443.09,36.42 449.82,30.66 456.55,26.05 463.29,22.28 470.02,19.22 476.76,16.73 483.49,14.73 490.23,13.12 496.96,11.83 503.69,10.8 510.43,9.98 517.16,9.32 523.9,8.79 530.63,8.38 537.37,8.04 544.1,7.78" stroke="#b583f2" stroke-width="1.0"/>
<path d="M308.4 180.9L310.45 183.34L308.4 185.78L306.35 183.34Z" fill="#a874f0"/>
<path d="M315.13 180.88L317.18 183.32L315.13 185.75L313.09 183.32Z" fill="#a874f0"/>
<path d="M321.87 180.81L323.92 183.25L321.87 185.68L319.82 183.25Z" fill="#a874f0"/>
<path d="M328.6 180.61L330.65 183.05L328.6 185.48L326.56 183.05Z" fill="#a874f0"/>
<path d="M335.34 180.1L337.38 182.53L335.34 184.97L333.29 182.53Z" fill="#a874f0"/>
<path d="M342.07 178.92L344.12 181.36L342.07 183.79L340.02 181.36Z" fill="#a874f0"/>
<path d="M348.81 176.6L350.85 179.04L348.81 181.48L346.76 179.04Z" fill="#a874f0"/>
<path d="M355.54 172.69L357.59 175.12L355.54 177.56L353.49 175.12Z" fill="#a874f0"/>
<path d="M362.27 166.92L364.32 169.36L362.27 171.8L360.23 169.36Z" fill="#a874f0"/>
<path d="M369.01 159.19L371.06 161.63L369.01 164.07L366.96 161.63Z" fill="#a874f0"/>
<path d="M375.74 149.44L377.79 151.88L375.74 154.32L373.7 151.88Z" fill="#a874f0"/>
<path d="M382.48 137.76L384.52 140.19L382.48 142.63L380.43 140.19Z" fill="#a874f0"/>
<path d="M389.21 124.55L391.26 126.99L389.21 129.43L387.16 126.99Z" fill="#a874f0"/>
<path d="M395.95 110.56L397.99 113L395.95 115.43L393.9 113Z" fill="#a874f0"/>
<path d="M402.68 96.55L404.73 98.99L402.68 101.43L400.63 98.99Z" fill="#a874f0"/>
<path d="M409.41 82.81L411.46 85.25L409.41 87.69L407.37 85.25Z" fill="#a874f0"/>
<path d="M416.15 70.21L418.2 72.65L416.15 75.08L414.1 72.65Z" fill="#a874f0"/>
<path d="M422.88 60.4L424.93 62.84L422.88 65.28L420.84 62.84Z" fill="#a874f0"/>
<path d="M429.62 49.25L431.66 51.68L429.62 54.12L427.57 51.68Z" fill="#a874f0"/>
<path d="M436.35 40.95L438.4 43.38L436.35 45.82L434.3 43.38Z" fill="#a874f0"/>
<path d="M443.09 33.99L445.13 36.42L443.09 38.86L441.04 36.42Z" fill="#a874f0"/>
<path d="M449.82 28.22L451.87 30.66L449.82 33.1L447.77 30.66Z" fill="#a874f0"/>
<path d="M456.55 23.61L458.6 26.05L456.55 28.49L454.51 26.05Z" fill="#a874f0"/>
<path d="M463.29 19.84L465.34 22.28L463.29 24.72L461.24 22.28Z" fill="#a874f0"/>
<path d="M470.02 16.78L472.07 19.22L470.02 21.65L467.98 19.22Z" fill="#a874f0"/>
<path d="M476.76 14.3L478.8 16.73L476.76 19.17L474.71 16.73Z" fill="#a874f0"/>
<path d="M483.49 12.29L485.54 14.73L483.49 17.17L481.44 14.73Z" fill="#a874f0"/>
<path d="M490.23 10.69L492.27 13.12L490.23 15.56L488.18 13.12Z" fill="#a874f0"/>
<path d="M496.96 9.4L499.01 11.83L496.96 14.27L494.91 11.83Z" fill="#a874f0"/>
<path d="M503.69 8.36L505.74 10.8L503.69 13.24L501.65 10.8Z" fill="#a874f0"/>
<path d="M510.43 7.54L512.48 9.98L510.43 12.41L508.38 9.98Z" fill="#a874f0"/>
<path d="M517.16 6.88L519.21 9.32L517.16 11.76L515.12 9.32Z" fill="#a874f0"/>
<path d="M523.9 6.36L525.94 8.79L523.9 11.23L521.85 8.79Z" fill="#a874f0"/>
<path d="M530.63 5.94L532.68 8.38L530.63 10.81L528.58 8.38Z" fill="#a874f0"/>
<path d="M537.37 5.61L539.41 8.04L537.37 10.48L535.32 8.04Z" fill="#a874f0"/>
<path d="M544.1 5.34L546.15 7.78L544.1 10.22L542.05 7.78Z" fill="#a874f0"/>
<polyline points="308.4,183.34 315.13,183.31 321.87,183.24 328.6,183.03 335.34,182.49 342.07,181.27 348.81,178.89 355.54,174.88 362.27,169.01 369.01,161.17 375.74,151.32 382.48,139.56 389.21,126.32 395.95,112.32 402.68,98.34 409.41,85.01 416.15,72.75 422.88,63.93 429.62,52.26 436.35,44.08 443.09,37.18 449.82,31.43 456.55,26.68 463.29,22.79 470.02,19.63 476.76,17.07 483.49,15 490.23,13.34 496.96,12.01 503.69,10.94 510.43,10.09 517.16,9.41 523.9,8.86 530.63,8.43 537.37,8.09 544.1,7.81" stroke="#d49a17" stroke-width="0.9"/>
<path d="M308.4 181.27L310.13 183.34L308.4 185.4L306.67 183.34Z" fill="#d09512"/>
<path d="M315.13 181.25L316.87 183.31L315.13 185.37L313.4 183.31Z" fill="#d09512"/>
<path d="M321.87 181.17L323.6 183.24L321.87 185.3L320.14 183.24Z" fill="#d09512"/>
<path d="M328.6 180.97L330.34 183.03L328.6 185.09L326.87 183.03Z" fill="#d09512"/>
<path d="M335.34 180.43L337.07 182.49L335.34 184.55L333.6 182.49Z" fill="#d09512"/>
<path d="M342.07 179.21L343.8 181.27L342.07 183.34L340.34 181.27Z" fill="#d09512"/>
<path d="M348.81 176.82L350.54 178.89L348.81 180.95L347.07 178.89Z" fill="#d09512"/>
<path d="M355.54 172.82L357.27 174.88L355.54 176.95L353.81 174.88Z" fill="#d09512"/>
<path d="M362.27 166.95L364.01 169.01L362.27 171.07L360.54 169.01Z" fill="#d09512"/>
<path d="M369.01 159.11L370.74 161.17L369.01 163.23L367.28 161.17Z" fill="#d09512"/>
<path d="M375.74 149.26L377.48 151.32L375.74 153.38L374.01 151.32Z" fill="#d09512"/>
<path d="M382.48 137.5L384.21 139.56L382.48 141.62L380.74 139.56Z" fill="#d09512"/>
<path d="M389.21 124.26L390.94 126.32L389.21 128.38L387.48 126.32Z" fill="#d09512"/>
<path d="M395.95 110.26L397.68 112.32L395.95 114.39L394.21 112.32Z" fill="#d09512"/>
<path d="M402.68 96.28L404.41 98.34L402.68 100.4L400.95 98.34Z" fill="#d09512"/>
<path d="M409.41 82.95L411.15 85.01L409.41 87.07L407.68 85.01Z" fill="#d09512"/>
<path d="M416.15 70.69L417.88 72.75L416.15 74.82L414.42 72.75Z" fill="#d09512"/>
<path d="M422.88 61.87L424.62 63.93L422.88 65.99L421.15 63.93Z" fill="#d09512"/>
<path d="M429.62 50.2L431.35 52.26L429.62 54.32L427.88 52.26Z" fill="#d09512"/>
<path d="M436.35 42.02L438.08 44.08L436.35 46.14L434.62 44.08Z" fill="#d09512"/>
<path d="M443.09 35.12L444.82 37.18L443.09 39.24L441.35 37.18Z" fill="#d09512"/>
<path d="M449.82 29.37L451.55 31.43L449.82 33.49L448.09 31.43Z" fill="#d09512"/>
<path d="M456.55 24.62L458.29 26.68L456.55 28.74L454.82 26.68Z" fill="#d09512"/>
<path d="M463.29 20.73L465.02 22.79L463.29 24.86L461.56 22.79Z" fill="#d09512"/>
<path d="M470.02 17.57L471.76 19.63L470.02 21.69L468.29 19.63Z" fill="#d09512"/>
<path d="M476.76 15.01L478.49 17.07L476.76 19.13L475.02 17.07Z" fill="#d09512"/>
<path d="M483.49 12.94L485.22 15L483.49 17.06L481.76 15Z" fill="#d09512"/>
<path d="M490.23 11.28L491.96 13.34L490.23 15.4L488.49 13.34Z" fill="#d09512"/>
<path d="M496.96 9.95L498.69 12.01L496.96 14.07L495.23 12.01Z" fill="#d09512"/>
<path d="M503.69 8.88L505.43 10.94L503.69 13L501.96 10.94Z" fill="#d09512"/>
<path d="M510.43 8.03L512.16 10.09L510.43 12.15L508.7 10.09Z" fill="#d09512"/>
<path d="M517.16 7.34L518.9 9.41L517.16 11.47L515.43 9.41Z" fill="#d09512"/>
<path d="M523.9 6.8L525.63 8.86L523.9 10.93L522.16 8.86Z" fill="#d09512"/>
<path d="M530.63 6.37L532.36 8.43L530.63 10.49L528.9 8.43Z" fill="#d09512"/>
<path d="M537.37 6.02L539.1 8.09L537.37 10.15L535.63 8.09Z" fill="#d09512"/>
<path d="M544.1 5.75L545.83 7.81L544.1 9.88L542.37 7.81Z" fill="#d09512"/>
</g>
<rect x="308.4" y="6.75" width="235.7" height="176.6" fill="none" stroke="#2b2b2b" stroke-width="1.2"/>
<path d="M308.4 183.35v-3.2M308.4 6.75v3.2M342.07 183.35v-3.2M342.07 6.75v3.2M375.74 183.35v-3.2M375.74 6.75v3.2M409.41 183.35v-3.2M409.41 6.75v3.2M443.09 183.35v-3.2M443.09 6.75v3.2M476.76 183.35v-3.2M476.76 6.75v3.2M510.43 183.35v-3.2M510.43 6.75v3.2M544.1 183.35v-3.2M544.1 6.75v3.2M308.4 183.35h3.2M544.1 183.35h-3.2M308.4 165.69h3.2M544.1 165.69h-3.2M308.4 148.03h3.2M544.1 148.03h-3.2M308.4 130.37h3.2M544.1 130.37h-3.2M308.4 112.71h3.2M544.1 112.71h-3.2M308.4 95.05h3.2M544.1 95.05h-3.2M308.4 77.39h3.2M544.1 77.39h-3.2M308.4 59.73h3.2M544.1 59.73h-3.2M308.4 42.07h3.2M544.1 42.07h-3.2M308.4 24.41h3.2M544.1 24.41h-3.2M308.4 6.75h3.2M544.1 6.75h-3.2" stroke="#2b2b2b" stroke-width="1.1" fill="none"/>
<g font-family="'Liberation Serif', 'Times New Roman', serif" font-size="7.9" fill="#262626" stroke="#262626" stroke-width="0.28" letter-spacing="-0.08"><text x="308.4" y="193.95" text-anchor="middle">0</text><text x="342.07" y="193.95" text-anchor="middle">5</text><text x="375.74" y="193.95" text-anchor="middle">10</text><text x="409.41" y="193.95" text-anchor="middle">15</text><text x="443.09" y="193.95" text-anchor="middle">20</text><text x="476.76" y="193.95" text-anchor="middle">25</text><text x="510.43" y="193.95" text-anchor="middle">30</text><text x="544.1" y="193.95" text-anchor="middle">35</text><text x="304.5" y="186.45" text-anchor="end">0. 0</text><text x="304.5" y="168.79" text-anchor="end">0. 1</text><text x="304.5" y="151.13" text-anchor="end">0. 2</text><text x="304.5" y="133.47" text-anchor="end">0. 3</text><text x="304.5" y="115.81" text-anchor="end">0. 4</text><text x="304.5" y="98.15" text-anchor="end">0. 5</text><text x="304.5" y="80.49" text-anchor="end">0. 6</text><text x="304.5" y="62.83" text-anchor="end">0. 7</text><text x="304.5" y="45.17" text-anchor="end">0. 8</text><text x="304.5" y="27.51" text-anchor="end">0. 9</text><text x="304.5" y="9.85" text-anchor="end">1. 0</text></g>
<text x="426.45" y="205.85" text-anchor="middle" font-family="'Liberation Serif', 'Times New Roman', serif" font-size="9.1" fill="#111" stroke="#111" stroke-width="0.22">SNR/ (dB)</text>
<text transform="translate(289.5 94.95) rotate(-90)" text-anchor="middle" font-family="'Liberation Serif', 'Times New Roman', serif" font-size="8.95" fill="#111" stroke="#111" stroke-width="0.22">Detection probability</text>
<text x="414.75" y="220.45" text-anchor="middle" font-family="'Liberation Serif', 'Times New Roman', serif" font-size="11" font-weight="bold" fill="#111" letter-spacing="0.2">(b)</text>
<rect x="315" y="11.6" width="75.2" height="56.45" fill="#fff" stroke="#a8a8a8" stroke-width="0.9"/>
<line x1="315.6" y1="16.85" x2="333.6" y2="16.85" stroke="#3a3a3a" stroke-width="1.0"/>
<rect x="323.03" y="15.28" width="3.15" height="3.15" fill="#2a2a2a"/>
<text x="335.5" y="19.05" font-family="'Liberation Serif', 'Times New Roman', serif" font-size="7.35" fill="#1a1a1a" stroke="#1a1a1a" stroke-width="0.4" letter-spacing="0.05">KLQ-CFAR</text>
<line x1="315.6" y1="26.18" x2="333.6" y2="26.18" stroke="#ff4a4a" stroke-width="1.1"/>
<circle cx="324.6" cy="26.18" r="1.75" fill="#ff2020"/>
<text x="335.5" y="28.38" font-family="'Liberation Serif', 'Times New Roman', serif" font-size="7.35" fill="#1a1a1a" stroke="#1a1a1a" stroke-width="0.4" letter-spacing="0.05">MAXKLQ-CFAR</text>
<line x1="315.6" y1="35.51" x2="333.6" y2="35.51" stroke="#1f6fe8" stroke-width="1.0"/>
<path d="M324.6 33.41L326.53 36.91L322.68 36.91Z" fill="#1a62e6"/>
<text x="335.5" y="37.71" font-family="'Liberation Serif', 'Times New Roman', serif" font-size="7.35" fill="#1a1a1a" stroke="#1a1a1a" stroke-width="0.4" letter-spacing="0.05">MINKLQ-CFAR</text>
<line x1="315.6" y1="44.84" x2="333.6" y2="44.84" stroke="#22a35e" stroke-width="1.0"/>
<path d="M324.6 46.94L326.53 43.44L322.68 43.44Z" fill="#1c9c58"/>
<text x="335.5" y="47.04" font-family="'Liberation Serif', 'Times New Roman', serif" font-size="7.35" fill="#1a1a1a" stroke="#1a1a1a" stroke-width="0.4" letter-spacing="0.05">APKLQ-CFAR</text>
<line x1="315.6" y1="54.17" x2="333.6" y2="54.17" stroke="#b583f2" stroke-width="1.1"/>
<path d="M324.6 51.98L326.44 54.17L324.6 56.36L322.76 54.17Z" fill="#a874f0"/>
<text x="335.5" y="56.37" font-family="'Liberation Serif', 'Times New Roman', serif" font-size="7.35" fill="#1a1a1a" stroke="#1a1a1a" stroke-width="0.4" letter-spacing="0.05">ASKLQ-CFAR</text>
<line x1="315.6" y1="63.5" x2="333.6" y2="63.5" stroke="#d49a17" stroke-width="1.0"/>
<path d="M324.6 61.31L326.44 63.5L324.6 65.69L322.76 63.5Z" fill="#d09512"/>
<text x="335.5" y="65.7" font-family="'Liberation Serif', 'Times New Roman', serif" font-size="7.35" fill="#1a1a1a" stroke="#1a1a1a" stroke-width="0.4" letter-spacing="0.05">CFKLQ-CFAR</text>
<rect x="413.4" y="55.9" width="22.2" height="20.3" fill="none" stroke="#111" stroke-width="1.2"/>
<path d="M413.4 76.2L422.6 92.2M435.6 76.2L484.9 92.2" stroke="#111" stroke-width="1.2" fill="none"/>
<rect x="422.6" y="92.2" width="62.3" height="48.4" fill="#fff"/>
<clipPath id="clipib"><rect x="422.6" y="92.2" width="62.3" height="48.4"/></clipPath>
<g clip-path="url(#clipib)" fill="none" stroke-linejoin="round">
<polyline points="392.52,227.41 411.41,193.69 430.31,161.65 449.21,132.26 468.11,106.07 487.01,83.25 505.91,63.74" stroke="#3a3a3a" stroke-width="0.9500000000000001"/>
<polyline points="392.52,207.61 411.41,174.87 430.31,144.38 449.21,113.07 468.11,92.65 487.01,71.77 505.91,54.06" stroke="#ff4a4a" stroke-width="1.05"/>
<polyline points="392.52,226.76 411.41,193.06 430.31,161.07 449.21,131.74 468.11,105.62 487.01,82.86 505.91,63.41" stroke="#1f6fe8" stroke-width="0.9500000000000001"/>
<polyline points="392.52,223.82 411.41,190.25 430.31,158.46 449.21,129.41 468.11,103.57 487.01,81.11 505.91,61.92" stroke="#22a35e" stroke-width="0.9500000000000001"/>
<polyline points="392.52,194.94 411.41,162.18 430.31,132.13 449.21,108.75 468.11,82.15 487.01,62.36 505.91,45.77" stroke="#b583f2" stroke-width="1.05"/>
<polyline points="392.52,193.39 411.41,161.61 430.31,132.39 449.21,111.34 468.11,83.52 487.01,64.02 505.91,47.56" stroke="#d49a17" stroke-width="0.9500000000000001"/>
</g>
<rect x="422.6" y="92.2" width="62.3" height="48.4" fill="none" stroke="#4a4a4a" stroke-width="0.85"/>
<path d="M430.31 140.6v-1.2M430.31 92.2v1.2M439.76 140.6v-1.2M439.76 92.2v1.2M449.21 140.6v-1.2M449.21 92.2v1.2M458.66 140.6v-1.2M458.66 92.2v1.2M468.11 140.6v-1.2M468.11 92.2v1.2M477.56 140.6v-1.2M477.56 92.2v1.2M422.6 122.38h1.2M484.9 122.38h-1.2M422.6 101.33h1.2M484.9 101.33h-1.2" stroke="#444" stroke-width="0.5" fill="none"/>
<g font-family="'Liberation Serif', 'Times New Roman', serif" font-size="2.9" fill="#666"><text x="430.31" y="144" text-anchor="middle">16.0</text><text x="439.76" y="144" text-anchor="middle">16.5</text><text x="449.21" y="144" text-anchor="middle">17.0</text><text x="458.66" y="144" text-anchor="middle">17.5</text><text x="468.11" y="144" text-anchor="middle">18.0</text><text x="477.56" y="144" text-anchor="middle">18.5</text><text x="421" y="123.18" text-anchor="end">0.65</text><text x="421" y="102.13" text-anchor="end">0.70</text></g>
<clipPath id="clipc"><rect x="28.7" y="228" width="235.7" height="176.6"/></clipPath>
<g clip-path="url(#clipc)" fill="none" stroke-linejoin="round">
<polyline points="28.7,404.6 35.43,404.6 42.17,404.59 48.9,404.55 55.64,404.43 62.37,404.12 69.11,403.37 75.84,401.83 82.57,399.06 89.31,394.65 96.04,388.26 102.78,379.75 109.51,369.16 116.25,356.8 122.98,343.22 129.71,329.13 136.45,315.25 143.18,302.15 149.92,290.23 156.65,279.68 163.39,270.56 170.12,262.8 176.85,256.3 183.59,250.9 190.32,246.46 197.06,242.84 203.79,239.9 210.53,237.53 217.26,235.61 223.99,234.08 230.73,232.85 237.46,231.86 244.2,231.07 250.93,230.45 257.67,229.95 264.4,229.55" stroke="#3a3a3a" stroke-width="0.9"/>
<circle cx="28.7" cy="404.6" r="1.65" fill="#2a2a2a"/>
<circle cx="35.43" cy="404.6" r="1.65" fill="#2a2a2a"/>
<circle cx="42.17" cy="404.59" r="1.65" fill="#2a2a2a"/>
<circle cx="48.9" cy="404.55" r="1.65" fill="#2a2a2a"/>
<circle cx="55.64" cy="404.43" r="1.65" fill="#2a2a2a"/>
<circle cx="62.37" cy="404.12" r="1.65" fill="#2a2a2a"/>
<circle cx="69.11" cy="403.37" r="1.65" fill="#2a2a2a"/>
<circle cx="75.84" cy="401.83" r="1.65" fill="#2a2a2a"/>
<circle cx="82.57" cy="399.06" r="1.65" fill="#2a2a2a"/>
<circle cx="89.31" cy="394.65" r="1.65" fill="#2a2a2a"/>
<circle cx="96.04" cy="388.26" r="1.65" fill="#2a2a2a"/>
<circle cx="102.78" cy="379.75" r="1.65" fill="#2a2a2a"/>
<circle cx="109.51" cy="369.16" r="1.65" fill="#2a2a2a"/>
<circle cx="116.25" cy="356.8" r="1.65" fill="#2a2a2a"/>
<circle cx="122.98" cy="343.22" r="1.65" fill="#2a2a2a"/>
<circle cx="129.71" cy="329.13" r="1.65" fill="#2a2a2a"/>
<circle cx="136.45" cy="315.25" r="1.65" fill="#2a2a2a"/>
<circle cx="143.18" cy="302.15" r="1.65" fill="#2a2a2a"/>
<circle cx="149.92" cy="290.23" r="1.65" fill="#2a2a2a"/>
<circle cx="156.65" cy="279.68" r="1.65" fill="#2a2a2a"/>
<circle cx="163.39" cy="270.56" r="1.65" fill="#2a2a2a"/>
<circle cx="170.12" cy="262.8" r="1.65" fill="#2a2a2a"/>
<circle cx="176.85" cy="256.3" r="1.65" fill="#2a2a2a"/>
<circle cx="183.59" cy="250.9" r="1.65" fill="#2a2a2a"/>
<circle cx="190.32" cy="246.46" r="1.65" fill="#2a2a2a"/>
<circle cx="197.06" cy="242.84" r="1.65" fill="#2a2a2a"/>
<circle cx="203.79" cy="239.9" r="1.65" fill="#2a2a2a"/>
<circle cx="210.53" cy="237.53" r="1.65" fill="#2a2a2a"/>
<circle cx="217.26" cy="235.61" r="1.65" fill="#2a2a2a"/>
<circle cx="223.99" cy="234.08" r="1.65" fill="#2a2a2a"/>
<circle cx="230.73" cy="232.85" r="1.65" fill="#2a2a2a"/>
<circle cx="237.46" cy="231.86" r="1.65" fill="#2a2a2a"/>
<circle cx="244.2" cy="231.07" r="1.65" fill="#2a2a2a"/>
<circle cx="250.93" cy="230.45" r="1.65" fill="#2a2a2a"/>
<circle cx="257.67" cy="229.95" r="1.65" fill="#2a2a2a"/>
<circle cx="264.4" cy="229.55" r="1.65" fill="#2a2a2a"/>
<polyline points="28.7,404.6 35.43,404.59 42.17,404.58 48.9,404.51 55.64,404.32 62.37,403.81 69.11,402.65 75.84,400.39 82.57,396.53 89.31,390.7 96.04,382.74 102.78,372.74 109.51,360.98 116.25,347.91 122.98,334.1 129.71,320.23 136.45,306.9 143.18,294.57 149.92,283.53 156.65,273.88 163.39,265.63 170.12,258.66 176.85,252.86 183.59,248.08 190.32,244.16 197.06,240.97 203.79,238.39 210.53,236.31 217.26,234.63 223.99,233.29 230.73,232.22 237.46,231.36 244.2,230.67 250.93,230.13 257.67,229.69 264.4,229.35" stroke="#ff4a4a" stroke-width="1.0"/>
<circle cx="28.7" cy="404.6" r="1.65" fill="#ff2020"/>
<circle cx="35.43" cy="404.59" r="1.65" fill="#ff2020"/>
<circle cx="42.17" cy="404.58" r="1.65" fill="#ff2020"/>
<circle cx="48.9" cy="404.51" r="1.65" fill="#ff2020"/>
<circle cx="55.64" cy="404.32" r="1.65" fill="#ff2020"/>
<circle cx="62.37" cy="403.81" r="1.65" fill="#ff2020"/>
<circle cx="69.11" cy="402.65" r="1.65" fill="#ff2020"/>
<circle cx="75.84" cy="400.39" r="1.65" fill="#ff2020"/>
<circle cx="82.57" cy="396.53" r="1.65" fill="#ff2020"/>
<circle cx="89.31" cy="390.7" r="1.65" fill="#ff2020"/>
<circle cx="96.04" cy="382.74" r="1.65" fill="#ff2020"/>
<circle cx="102.78" cy="372.74" r="1.65" fill="#ff2020"/>
<circle cx="109.51" cy="360.98" r="1.65" fill="#ff2020"/>
<circle cx="116.25" cy="347.91" r="1.65" fill="#ff2020"/>
<circle cx="122.98" cy="334.1" r="1.65" fill="#ff2020"/>
<circle cx="129.71" cy="320.23" r="1.65" fill="#ff2020"/>
<circle cx="136.45" cy="306.9" r="1.65" fill="#ff2020"/>
<circle cx="143.18" cy="294.57" r="1.65" fill="#ff2020"/>
<circle cx="149.92" cy="283.53" r="1.65" fill="#ff2020"/>
<circle cx="156.65" cy="273.88" r="1.65" fill="#ff2020"/>
<circle cx="163.39" cy="265.63" r="1.65" fill="#ff2020"/>
<circle cx="170.12" cy="258.66" r="1.65" fill="#ff2020"/>
<circle cx="176.85" cy="252.86" r="1.65" fill="#ff2020"/>
<circle cx="183.59" cy="248.08" r="1.65" fill="#ff2020"/>
<circle cx="190.32" cy="244.16" r="1.65" fill="#ff2020"/>
<circle cx="197.06" cy="240.97" r="1.65" fill="#ff2020"/>
<circle cx="203.79" cy="238.39" r="1.65" fill="#ff2020"/>
<circle cx="210.53" cy="236.31" r="1.65" fill="#ff2020"/>
<circle cx="217.26" cy="234.63" r="1.65" fill="#ff2020"/>
<circle cx="223.99" cy="233.29" r="1.65" fill="#ff2020"/>
<circle cx="230.73" cy="232.22" r="1.65" fill="#ff2020"/>
<circle cx="237.46" cy="231.36" r="1.65" fill="#ff2020"/>
<circle cx="244.2" cy="230.67" r="1.65" fill="#ff2020"/>
<circle cx="250.93" cy="230.13" r="1.65" fill="#ff2020"/>
<circle cx="257.67" cy="229.69" r="1.65" fill="#ff2020"/>
<circle cx="264.4" cy="229.35" r="1.65" fill="#ff2020"/>
<polyline points="28.7,404.6 35.43,404.6 42.17,404.59 48.9,404.55 55.64,404.43 62.37,404.1 69.11,403.32 75.84,401.72 82.57,398.87 89.31,394.34 96.04,387.81 102.78,379.15 109.51,368.45 116.25,356.01 122.98,342.4 129.71,328.32 136.45,314.48 143.18,301.44 149.92,289.6 156.65,279.14 163.39,270.09 170.12,262.41 176.85,255.97 183.59,250.63 190.32,246.24 197.06,242.66 203.79,239.76 210.53,237.41 217.26,235.52 223.99,234 230.73,232.79 237.46,231.81 244.2,231.04 250.93,230.42 257.67,229.92 264.4,229.53" stroke="#1f6fe8" stroke-width="0.9"/>
<path d="M28.7 402.62L30.52 405.92L26.88 405.92Z" fill="#1a62e6"/>
<path d="M35.43 402.62L37.25 405.92L33.62 405.92Z" fill="#1a62e6"/>
<path d="M42.17 402.61L43.98 405.91L40.35 405.91Z" fill="#1a62e6"/>
<path d="M48.9 402.57L50.72 405.87L47.09 405.87Z" fill="#1a62e6"/>
<path d="M55.64 402.45L57.45 405.75L53.82 405.75Z" fill="#1a62e6"/>
<path d="M62.37 402.12L64.19 405.42L60.56 405.42Z" fill="#1a62e6"/>
<path d="M69.11 401.34L70.92 404.64L67.29 404.64Z" fill="#1a62e6"/>
<path d="M75.84 399.74L77.66 403.04L74.03 403.04Z" fill="#1a62e6"/>
<path d="M82.57 396.89L84.39 400.19L80.76 400.19Z" fill="#1a62e6"/>
<path d="M89.31 392.36L91.12 395.66L87.49 395.66Z" fill="#1a62e6"/>
<path d="M96.04 385.83L97.86 389.13L94.23 389.13Z" fill="#1a62e6"/>
<path d="M102.78 377.17L104.59 380.47L100.96 380.47Z" fill="#1a62e6"/>
<path d="M109.51 366.47L111.33 369.77L107.7 369.77Z" fill="#1a62e6"/>
<path d="M116.25 354.03L118.06 357.33L114.43 357.33Z" fill="#1a62e6"/>
<path d="M122.98 340.42L124.8 343.72L121.17 343.72Z" fill="#1a62e6"/>
<path d="M129.71 326.34L131.53 329.64L127.9 329.64Z" fill="#1a62e6"/>
<path d="M136.45 312.5L138.26 315.8L134.63 315.8Z" fill="#1a62e6"/>
<path d="M143.18 299.46L145 302.76L141.37 302.76Z" fill="#1a62e6"/>
<path d="M149.92 287.62L151.73 290.92L148.1 290.92Z" fill="#1a62e6"/>
<path d="M156.65 277.16L158.47 280.46L154.84 280.46Z" fill="#1a62e6"/>
<path d="M163.39 268.11L165.2 271.41L161.57 271.41Z" fill="#1a62e6"/>
<path d="M170.12 260.43L171.93 263.73L168.3 263.73Z" fill="#1a62e6"/>
<path d="M176.85 253.99L178.67 257.29L175.04 257.29Z" fill="#1a62e6"/>
<path d="M183.59 248.65L185.4 251.95L181.77 251.95Z" fill="#1a62e6"/>
<path d="M190.32 244.26L192.14 247.56L188.51 247.56Z" fill="#1a62e6"/>
<path d="M197.06 240.68L198.87 243.98L195.24 243.98Z" fill="#1a62e6"/>
<path d="M203.79 237.78L205.61 241.08L201.98 241.08Z" fill="#1a62e6"/>
<path d="M210.53 235.43L212.34 238.73L208.71 238.73Z" fill="#1a62e6"/>
<path d="M217.26 233.54L219.07 236.84L215.44 236.84Z" fill="#1a62e6"/>
<path d="M223.99 232.02L225.81 235.32L222.18 235.32Z" fill="#1a62e6"/>
<path d="M230.73 230.81L232.54 234.11L228.91 234.11Z" fill="#1a62e6"/>
<path d="M237.46 229.83L239.28 233.13L235.65 233.13Z" fill="#1a62e6"/>
<path d="M244.2 229.06L246.01 232.36L242.38 232.36Z" fill="#1a62e6"/>
<path d="M250.93 228.44L252.75 231.74L249.12 231.74Z" fill="#1a62e6"/>
<path d="M257.67 227.94L259.48 231.24L255.85 231.24Z" fill="#1a62e6"/>
<path d="M264.4 227.55L266.21 230.85L262.58 230.85Z" fill="#1a62e6"/>
<polyline points="28.7,404.6 35.43,404.6 42.17,404.59 48.9,404.55 55.64,404.42 62.37,404.07 69.11,403.26 75.84,401.6 82.57,398.64 89.31,393.96 96.04,387.27 102.78,378.46 109.51,367.62 116.25,355.1 122.98,341.45 129.71,327.38 136.45,313.59 143.18,300.63 149.92,288.88 156.65,278.51 163.39,269.56 170.12,261.96 176.85,255.6 183.59,250.32 190.32,245.99 197.06,242.46 203.79,239.59 210.53,237.28 217.26,235.41 223.99,233.92 230.73,232.72 237.46,231.76 244.2,230.99 250.93,230.38 257.67,229.89 264.4,229.51" stroke="#22a35e" stroke-width="0.9"/>
<path d="M28.7 406.58L30.52 403.28L26.88 403.28Z" fill="#1c9c58"/>
<path d="M35.43 406.58L37.25 403.28L33.62 403.28Z" fill="#1c9c58"/>
<path d="M42.17 406.57L43.98 403.27L40.35 403.27Z" fill="#1c9c58"/>
<path d="M48.9 406.53L50.72 403.23L47.09 403.23Z" fill="#1c9c58"/>
<path d="M55.64 406.4L57.45 403.1L53.82 403.1Z" fill="#1c9c58"/>
<path d="M62.37 406.05L64.19 402.75L60.56 402.75Z" fill="#1c9c58"/>
<path d="M69.11 405.24L70.92 401.94L67.29 401.94Z" fill="#1c9c58"/>
<path d="M75.84 403.58L77.66 400.28L74.03 400.28Z" fill="#1c9c58"/>
<path d="M82.57 400.62L84.39 397.32L80.76 397.32Z" fill="#1c9c58"/>
<path d="M89.31 395.94L91.12 392.64L87.49 392.64Z" fill="#1c9c58"/>
<path d="M96.04 389.25L97.86 385.95L94.23 385.95Z" fill="#1c9c58"/>
<path d="M102.78 380.44L104.59 377.14L100.96 377.14Z" fill="#1c9c58"/>
<path d="M109.51 369.6L111.33 366.3L107.7 366.3Z" fill="#1c9c58"/>
<path d="M116.25 357.08L118.06 353.78L114.43 353.78Z" fill="#1c9c58"/>
<path d="M122.98 343.43L124.8 340.13L121.17 340.13Z" fill="#1c9c58"/>
<path d="M129.71 329.36L131.53 326.06L127.9 326.06Z" fill="#1c9c58"/>
<path d="M136.45 315.57L138.26 312.27L134.63 312.27Z" fill="#1c9c58"/>
<path d="M143.18 302.61L145 299.31L141.37 299.31Z" fill="#1c9c58"/>
<path d="M149.92 290.86L151.73 287.56L148.1 287.56Z" fill="#1c9c58"/>
<path d="M156.65 280.49L158.47 277.19L154.84 277.19Z" fill="#1c9c58"/>
<path d="M163.39 271.54L165.2 268.24L161.57 268.24Z" fill="#1c9c58"/>
<path d="M170.12 263.94L171.93 260.64L168.3 260.64Z" fill="#1c9c58"/>
<path d="M176.85 257.58L178.67 254.28L175.04 254.28Z" fill="#1c9c58"/>
<path d="M183.59 252.3L185.4 249L181.77 249Z" fill="#1c9c58"/>
<path d="M190.32 247.97L192.14 244.67L188.51 244.67Z" fill="#1c9c58"/>
<path d="M197.06 244.44L198.87 241.14L195.24 241.14Z" fill="#1c9c58"/>
<path d="M203.79 241.57L205.61 238.27L201.98 238.27Z" fill="#1c9c58"/>
<path d="M210.53 239.26L212.34 235.96L208.71 235.96Z" fill="#1c9c58"/>
<path d="M217.26 237.39L219.07 234.09L215.44 234.09Z" fill="#1c9c58"/>
<path d="M223.99 235.9L225.81 232.6L222.18 232.6Z" fill="#1c9c58"/>
<path d="M230.73 234.7L232.54 231.4L228.91 231.4Z" fill="#1c9c58"/>
<path d="M237.46 233.74L239.28 230.44L235.65 230.44Z" fill="#1c9c58"/>
<path d="M244.2 232.97L246.01 229.67L242.38 229.67Z" fill="#1c9c58"/>
<path d="M250.93 232.36L252.75 229.06L249.12 229.06Z" fill="#1c9c58"/>
<path d="M257.67 231.87L259.48 228.57L255.85 228.57Z" fill="#1c9c58"/>
<path d="M264.4 231.49L266.21 228.19L262.58 228.19Z" fill="#1c9c58"/>
<polyline points="28.7,404.6 35.43,404.59 42.17,404.57 48.9,404.48 55.64,404.24 62.37,403.62 69.11,402.26 75.84,399.66 82.57,395.33 89.31,388.93 96.04,380.38 102.78,369.87 109.51,357.74 116.25,344.49 122.98,330.68 129.71,316.95 136.45,303.86 143.18,291.84 149.92,281.14 156.65,271.84 163.39,263.9 170.12,257.22 176.85,251.67 183.59,247.1 190.32,243.36 197.06,240.33 203.79,237.87 210.53,235.89 217.26,234.3 223.99,233.02 230.73,232 237.46,231.19 244.2,230.54 250.93,230.02 257.67,229.61 264.4,229.28" stroke="#b583f2" stroke-width="1.0"/>
<path d="M28.7 402.16L30.75 404.6L28.7 407.04L26.65 404.6Z" fill="#a874f0"/>
<path d="M35.43 402.15L37.48 404.59L35.43 407.03L33.39 404.59Z" fill="#a874f0"/>
<path d="M42.17 402.13L44.22 404.57L42.17 407L40.12 404.57Z" fill="#a874f0"/>
<path d="M48.9 402.05L50.95 404.48L48.9 406.92L46.86 404.48Z" fill="#a874f0"/>
<path d="M55.64 401.8L57.68 404.24L55.64 406.68L53.59 404.24Z" fill="#a874f0"/>
<path d="M62.37 401.19L64.42 403.62L62.37 406.06L60.32 403.62Z" fill="#a874f0"/>
<path d="M69.11 399.83L71.15 402.26L69.11 404.7L67.06 402.26Z" fill="#a874f0"/>
<path d="M75.84 397.23L77.89 399.66L75.84 402.1L73.79 399.66Z" fill="#a874f0"/>
<path d="M82.57 392.89L84.62 395.33L82.57 397.77L80.53 395.33Z" fill="#a874f0"/>
<path d="M89.31 386.49L91.36 388.93L89.31 391.36L87.26 388.93Z" fill="#a874f0"/>
<path d="M96.04 377.94L98.09 380.38L96.04 382.82L94 380.38Z" fill="#a874f0"/>
<path d="M102.78 367.43L104.82 369.87L102.78 372.31L100.73 369.87Z" fill="#a874f0"/>
<path d="M109.51 355.31L111.56 357.74L109.51 360.18L107.46 357.74Z" fill="#a874f0"/>
<path d="M116.25 342.05L118.29 344.49L116.25 346.92L114.2 344.49Z" fill="#a874f0"/>
<path d="M122.98 328.24L125.03 330.68L122.98 333.11L120.93 330.68Z" fill="#a874f0"/>
<path d="M129.71 314.51L131.76 316.95L129.71 319.38L127.67 316.95Z" fill="#a874f0"/>
<path d="M136.45 301.42L138.5 303.86L136.45 306.3L134.4 303.86Z" fill="#a874f0"/>
<path d="M143.18 289.41L145.23 291.84L143.18 294.28L141.14 291.84Z" fill="#a874f0"/>
<path d="M149.92 278.7L151.96 281.14L149.92 283.58L147.87 281.14Z" fill="#a874f0"/>
<path d="M156.65 269.4L158.7 271.84L156.65 274.27L154.6 271.84Z" fill="#a874f0"/>
<path d="M163.39 261.46L165.43 263.9L163.39 266.33L161.34 263.9Z" fill="#a874f0"/>
<path d="M170.12 254.78L172.17 257.22L170.12 259.66L168.07 257.22Z" fill="#a874f0"/>
<path d="M176.85 249.23L178.9 251.67L176.85 254.11L174.81 251.67Z" fill="#a874f0"/>
<path d="M183.59 244.66L185.64 247.1L183.59 249.54L181.54 247.1Z" fill="#a874f0"/>
<path d="M190.32 240.92L192.37 243.36L190.32 245.8L188.28 243.36Z" fill="#a874f0"/>
<path d="M197.06 237.89L199.1 240.33L197.06 242.76L195.01 240.33Z" fill="#a874f0"/>
<path d="M203.79 235.43L205.84 237.87L203.79 240.31L201.74 237.87Z" fill="#a874f0"/>
<path d="M210.53 233.45L212.57 235.89L210.53 238.33L208.48 235.89Z" fill="#a874f0"/>
<path d="M217.26 231.86L219.31 234.3L217.26 236.74L215.21 234.3Z" fill="#a874f0"/>
<path d="M223.99 230.59L226.04 233.02L223.99 235.46L221.95 233.02Z" fill="#a874f0"/>
<path d="M230.73 229.57L232.78 232L230.73 234.44L228.68 232Z" fill="#a874f0"/>
<path d="M237.46 228.75L239.51 231.19L237.46 233.63L235.42 231.19Z" fill="#a874f0"/>
<path d="M244.2 228.1L246.24 230.54L244.2 232.97L242.15 230.54Z" fill="#a874f0"/>
<path d="M250.93 227.58L252.98 230.02L250.93 232.46L248.88 230.02Z" fill="#a874f0"/>
<path d="M257.67 227.17L259.71 229.61L257.67 232.04L255.62 229.61Z" fill="#a874f0"/>
<path d="M264.4 226.84L266.45 229.28L264.4 231.71L262.35 229.28Z" fill="#a874f0"/>
<polyline points="28.7,404.6 35.43,404.59 42.17,404.56 48.9,404.46 55.64,404.18 62.37,403.48 69.11,401.98 75.84,399.15 82.57,394.5 89.31,387.74 96.04,378.83 102.78,368.02 109.51,355.69 116.25,342.33 122.98,328.54 129.71,314.91 136.45,301.99 143.18,290.18 149.92,279.69 156.65,270.59 163.39,262.85 170.12,256.34 176.85,250.95 183.59,246.51 190.32,242.88 197.06,239.94 203.79,237.56 210.53,235.64 217.26,234.1 223.99,232.86 230.73,231.87 237.46,231.08 244.2,230.45 250.93,229.95 257.67,229.55 264.4,229.24" stroke="#d49a17" stroke-width="0.9"/>
<path d="M28.7 402.53L30.43 404.6L28.7 406.66L26.97 404.6Z" fill="#d09512"/>
<path d="M35.43 402.53L37.17 404.59L35.43 406.65L33.7 404.59Z" fill="#d09512"/>
<path d="M42.17 402.5L43.9 404.56L42.17 406.62L40.44 404.56Z" fill="#d09512"/>
<path d="M48.9 402.4L50.64 404.46L48.9 406.52L47.17 404.46Z" fill="#d09512"/>
<path d="M55.64 402.12L57.37 404.18L55.64 406.24L53.9 404.18Z" fill="#d09512"/>
<path d="M62.37 401.42L64.1 403.48L62.37 405.55L60.64 403.48Z" fill="#d09512"/>
<path d="M69.11 399.91L70.84 401.98L69.11 404.04L67.37 401.98Z" fill="#d09512"/>
<path d="M75.84 397.09L77.57 399.15L75.84 401.21L74.11 399.15Z" fill="#d09512"/>
<path d="M82.57 392.44L84.31 394.5L82.57 396.57L80.84 394.5Z" fill="#d09512"/>
<path d="M89.31 385.68L91.04 387.74L89.31 389.8L87.58 387.74Z" fill="#d09512"/>
<path d="M96.04 376.77L97.78 378.83L96.04 380.9L94.31 378.83Z" fill="#d09512"/>
<path d="M102.78 365.96L104.51 368.02L102.78 370.08L101.04 368.02Z" fill="#d09512"/>
<path d="M109.51 353.62L111.24 355.69L109.51 357.75L107.78 355.69Z" fill="#d09512"/>
<path d="M116.25 340.27L117.98 342.33L116.25 344.4L114.51 342.33Z" fill="#d09512"/>
<path d="M122.98 326.48L124.71 328.54L122.98 330.6L121.25 328.54Z" fill="#d09512"/>
<path d="M129.71 312.85L131.45 314.91L129.71 316.98L127.98 314.91Z" fill="#d09512"/>
<path d="M136.45 299.93L138.18 301.99L136.45 304.06L134.72 301.99Z" fill="#d09512"/>
<path d="M143.18 288.12L144.92 290.18L143.18 292.24L141.45 290.18Z" fill="#d09512"/>
<path d="M149.92 277.63L151.65 279.69L149.92 281.75L148.18 279.69Z" fill="#d09512"/>
<path d="M156.65 268.53L158.38 270.59L156.65 272.65L154.92 270.59Z" fill="#d09512"/>
<path d="M163.39 260.78L165.12 262.85L163.39 264.91L161.65 262.85Z" fill="#d09512"/>
<path d="M170.12 254.28L171.85 256.34L170.12 258.41L168.39 256.34Z" fill="#d09512"/>
<path d="M176.85 248.89L178.59 250.95L176.85 253.01L175.12 250.95Z" fill="#d09512"/>
<path d="M183.59 244.45L185.32 246.51L183.59 248.57L181.86 246.51Z" fill="#d09512"/>
<path d="M190.32 240.82L192.06 242.88L190.32 244.94L188.59 242.88Z" fill="#d09512"/>
<path d="M197.06 237.87L198.79 239.94L197.06 242L195.32 239.94Z" fill="#d09512"/>
<path d="M203.79 235.49L205.52 237.56L203.79 239.62L202.06 237.56Z" fill="#d09512"/>
<path d="M210.53 233.57L212.26 235.64L210.53 237.7L208.79 235.64Z" fill="#d09512"/>
<path d="M217.26 232.03L218.99 234.1L217.26 236.16L215.53 234.1Z" fill="#d09512"/>
<path d="M223.99 230.8L225.73 232.86L223.99 234.92L222.26 232.86Z" fill="#d09512"/>
<path d="M230.73 229.81L232.46 231.87L230.73 233.94L229 231.87Z" fill="#d09512"/>
<path d="M237.46 229.02L239.2 231.08L237.46 233.15L235.73 231.08Z" fill="#d09512"/>
<path d="M244.2 228.39L245.93 230.45L244.2 232.52L242.46 230.45Z" fill="#d09512"/>
<path d="M250.93 227.89L252.66 229.95L250.93 232.02L249.2 229.95Z" fill="#d09512"/>
<path d="M257.67 227.49L259.4 229.55L257.67 231.62L255.93 229.55Z" fill="#d09512"/>
<path d="M264.4 227.17L266.13 229.24L264.4 231.3L262.67 229.24Z" fill="#d09512"/>
</g>
<rect x="28.7" y="228" width="235.7" height="176.6" fill="none" stroke="#2b2b2b" stroke-width="1.2"/>
<path d="M28.7 404.6v-3.2M28.7 228v3.2M62.37 404.6v-3.2M62.37 228v3.2M96.04 404.6v-3.2M96.04 228v3.2M129.71 404.6v-3.2M129.71 228v3.2M163.39 404.6v-3.2M163.39 228v3.2M197.06 404.6v-3.2M197.06 228v3.2M230.73 404.6v-3.2M230.73 228v3.2M264.4 404.6v-3.2M264.4 228v3.2M28.7 404.6h3.2M264.4 404.6h-3.2M28.7 386.94h3.2M264.4 386.94h-3.2M28.7 369.28h3.2M264.4 369.28h-3.2M28.7 351.62h3.2M264.4 351.62h-3.2M28.7 333.96h3.2M264.4 333.96h-3.2M28.7 316.3h3.2M264.4 316.3h-3.2M28.7 298.64h3.2M264.4 298.64h-3.2M28.7 280.98h3.2M264.4 280.98h-3.2M28.7 263.32h3.2M264.4 263.32h-3.2M28.7 245.66h3.2M264.4 245.66h-3.2M28.7 228h3.2M264.4 228h-3.2" stroke="#2b2b2b" stroke-width="1.1" fill="none"/>
<g font-family="'Liberation Serif', 'Times New Roman', serif" font-size="7.9" fill="#262626" stroke="#262626" stroke-width="0.28" letter-spacing="-0.08"><text x="28.7" y="415.2" text-anchor="middle">0</text><text x="62.37" y="415.2" text-anchor="middle">5</text><text x="96.04" y="415.2" text-anchor="middle">10</text><text x="129.71" y="415.2" text-anchor="middle">15</text><text x="163.39" y="415.2" text-anchor="middle">20</text><text x="197.06" y="415.2" text-anchor="middle">25</text><text x="230.73" y="415.2" text-anchor="middle">30</text><text x="264.4" y="415.2" text-anchor="middle">35</text><text x="24.8" y="407.7" text-anchor="end">0. 0</text><text x="24.8" y="390.04" text-anchor="end">0. 1</text><text x="24.8" y="372.38" text-anchor="end">0. 2</text><text x="24.8" y="354.72" text-anchor="end">0. 3</text><text x="24.8" y="337.06" text-anchor="end">0. 4</text><text x="24.8" y="319.4" text-anchor="end">0. 5</text><text x="24.8" y="301.74" text-anchor="end">0. 6</text><text x="24.8" y="284.08" text-anchor="end">0. 7</text><text x="24.8" y="266.42" text-anchor="end">0. 8</text><text x="24.8" y="248.76" text-anchor="end">0. 9</text><text x="24.8" y="231.1" text-anchor="end">1. 0</text></g>
<text x="146.75" y="427.1" text-anchor="middle" font-family="'Liberation Serif', 'Times New Roman', serif" font-size="9.1" fill="#111" stroke="#111" stroke-width="0.22">SNR/ (dB)</text>
<text transform="translate(9.8 316.2) rotate(-90)" text-anchor="middle" font-family="'Liberation Serif', 'Times New Roman', serif" font-size="8.95" fill="#111" stroke="#111" stroke-width="0.22">Detection probability</text>
<text x="135.05" y="441.7" text-anchor="middle" font-family="'Liberation Serif', 'Times New Roman', serif" font-size="11" font-weight="bold" fill="#111" letter-spacing="0.2">(c)</text>
<rect x="35.3" y="232.2" width="75.2" height="56.8" fill="#fff" stroke="#a8a8a8" stroke-width="0.9"/>
<line x1="35.9" y1="237.8" x2="53.9" y2="237.8" stroke="#3a3a3a" stroke-width="1.0"/>
<circle cx="44.9" cy="237.8" r="1.75" fill="#2a2a2a"/>
<text x="55.8" y="240" font-family="'Liberation Serif', 'Times New Roman', serif" font-size="7.35" fill="#1a1a1a" stroke="#1a1a1a" stroke-width="0.4" letter-spacing="0.05">KLQ-CFAR</text>
<line x1="35.9" y1="247.13" x2="53.9" y2="247.13" stroke="#ff4a4a" stroke-width="1.1"/>
<circle cx="44.9" cy="247.13" r="1.75" fill="#ff2020"/>
<text x="55.8" y="249.33" font-family="'Liberation Serif', 'Times New Roman', serif" font-size="7.35" fill="#1a1a1a" stroke="#1a1a1a" stroke-width="0.4" letter-spacing="0.05">MAXKLQ-CFAR</text>
<line x1="35.9" y1="256.46" x2="53.9" y2="256.46" stroke="#1f6fe8" stroke-width="1.0"/>
<path d="M44.9 254.36L46.82 257.86L42.98 257.86Z" fill="#1a62e6"/>
<text x="55.8" y="258.66" font-family="'Liberation Serif', 'Times New Roman', serif" font-size="7.35" fill="#1a1a1a" stroke="#1a1a1a" stroke-width="0.4" letter-spacing="0.05">MINKLQ-CFAR</text>
<line x1="35.9" y1="265.79" x2="53.9" y2="265.79" stroke="#22a35e" stroke-width="1.0"/>
<path d="M44.9 267.89L46.82 264.39L42.98 264.39Z" fill="#1c9c58"/>
<text x="55.8" y="267.99" font-family="'Liberation Serif', 'Times New Roman', serif" font-size="7.35" fill="#1a1a1a" stroke="#1a1a1a" stroke-width="0.4" letter-spacing="0.05">APKLQ-CFAR</text>
<line x1="35.9" y1="275.12" x2="53.9" y2="275.12" stroke="#b583f2" stroke-width="1.1"/>
<path d="M44.9 272.93L46.74 275.12L44.9 277.31L43.06 275.12Z" fill="#a874f0"/>
<text x="55.8" y="277.32" font-family="'Liberation Serif', 'Times New Roman', serif" font-size="7.35" fill="#1a1a1a" stroke="#1a1a1a" stroke-width="0.4" letter-spacing="0.05">ASKLQ-CFAR</text>
<line x1="35.9" y1="284.45" x2="53.9" y2="284.45" stroke="#d49a17" stroke-width="1.0"/>
<path d="M44.9 282.26L46.74 284.45L44.9 286.64L43.06 284.45Z" fill="#d09512"/>
<text x="55.8" y="286.65" font-family="'Liberation Serif', 'Times New Roman', serif" font-size="7.35" fill="#1a1a1a" stroke="#1a1a1a" stroke-width="0.4" letter-spacing="0.05">CFKLQ-CFAR</text>
<rect x="138.4" y="276.6" width="22.7" height="20.6" fill="none" stroke="#111" stroke-width="1.2"/>
<path d="M138.4 297.2L147.6 313.5M161.1 297.2L210.5 313.5" stroke="#111" stroke-width="1.2" fill="none"/>
<rect x="147.6" y="313.5" width="62.9" height="47.5" fill="#fff"/>
<clipPath id="clipic"><rect x="147.6" y="313.5" width="62.9" height="47.5"/></clipPath>
<g clip-path="url(#clipic)" fill="none" stroke-linejoin="round">
<polyline points="123.53,434.63 142.19,402.61 160.85,372.41 179.51,344.92 198.17,320.61 216.83,299.57 235.49,281.68" stroke="#3a3a3a" stroke-width="0.9500000000000001"/>
<polyline points="123.53,414.1 142.19,383.36 160.85,354.93 179.51,329.47 198.17,307.24 216.83,288.2 235.49,272.14" stroke="#ff4a4a" stroke-width="1.05"/>
<polyline points="123.53,432.76 142.19,400.84 160.85,370.79 179.51,343.48 198.17,319.35 216.83,298.5 235.49,280.78" stroke="#1f6fe8" stroke-width="0.9500000000000001"/>
<polyline points="123.53,430.6 142.19,398.79 160.85,368.92 179.51,341.82 198.17,317.91 216.83,297.27 235.49,279.74" stroke="#22a35e" stroke-width="0.9500000000000001"/>
<polyline points="123.53,406.53 142.19,376.36 160.85,348.65 179.51,323.97 198.17,302.52 216.83,284.21 235.49,268.81" stroke="#b583f2" stroke-width="1.05"/>
<polyline points="123.53,401.84 142.19,372.05 160.85,344.81 179.51,320.62 198.17,299.65 216.83,281.79 235.49,266.79" stroke="#d49a17" stroke-width="0.9500000000000001"/>
</g>
<rect x="147.6" y="313.5" width="62.9" height="47.5" fill="none" stroke="#4a4a4a" stroke-width="0.85"/>
<path d="M151.52 361v-1.2M151.52 313.5v1.2M160.85 361v-1.2M160.85 313.5v1.2M170.18 361v-1.2M170.18 313.5v1.2M179.51 361v-1.2M179.51 313.5v1.2M188.84 361v-1.2M188.84 313.5v1.2M198.17 361v-1.2M198.17 313.5v1.2M207.5 361v-1.2M207.5 313.5v1.2M147.6 343.96h1.2M210.5 343.96h-1.2M147.6 323.6h1.2M210.5 323.6h-1.2" stroke="#444" stroke-width="0.5" fill="none"/>
<g font-family="'Liberation Serif', 'Times New Roman', serif" font-size="2.9" fill="#666"><text x="151.52" y="364.4" text-anchor="middle">16.5</text><text x="160.85" y="364.4" text-anchor="middle">17.0</text><text x="170.18" y="364.4" text-anchor="middle">17.5</text><text x="179.51" y="364.4" text-anchor="middle">18.0</text><text x="188.84" y="364.4" text-anchor="middle">18.5</text><text x="198.17" y="364.4" text-anchor="middle">19.0</text><text x="207.5" y="364.4" text-anchor="middle">19.5</text><text x="146" y="344.76" text-anchor="end">0.65</text><text x="146" y="324.4" text-anchor="end">0.70</text></g>
<clipPath id="clipd"><rect x="308.4" y="228" width="235.7" height="176.6"/></clipPath>
<g clip-path="url(#clipd)" fill="none" stroke-linejoin="round">
<polyline points="308.4,404.6 315.13,404.6 321.87,404.59 328.6,404.55 335.34,404.4 342.07,403.97 348.81,402.95 355.54,400.98 362.27,397.73 369.01,392.86 375.74,385.96 382.48,376.7 389.21,365.14 395.95,351.86 402.68,337.68 409.41,323.4 416.15,309.71 422.88,297.05 429.62,285.69 436.35,275.74 443.09,267.2 449.82,259.98 456.55,253.95 463.29,248.97 470.02,244.89 476.76,241.56 483.49,238.87 490.23,236.69 496.96,234.94 503.69,233.54 510.43,232.42 517.16,231.52 523.9,230.8 530.63,230.23 537.37,229.77 544.1,229.41" stroke="#3a3a3a" stroke-width="0.9"/>
<rect x="306.91" y="403.11" width="2.97" height="2.97" fill="#2a2a2a"/>
<rect x="313.65" y="403.11" width="2.97" height="2.97" fill="#2a2a2a"/>
<rect x="320.38" y="403.1" width="2.97" height="2.97" fill="#2a2a2a"/>
<rect x="327.12" y="403.06" width="2.97" height="2.97" fill="#2a2a2a"/>
<rect x="333.85" y="402.91" width="2.97" height="2.97" fill="#2a2a2a"/>
<rect x="340.59" y="402.48" width="2.97" height="2.97" fill="#2a2a2a"/>
<rect x="347.32" y="401.47" width="2.97" height="2.97" fill="#2a2a2a"/>
<rect x="354.05" y="399.5" width="2.97" height="2.97" fill="#2a2a2a"/>
<rect x="360.79" y="396.25" width="2.97" height="2.97" fill="#2a2a2a"/>
<rect x="367.52" y="391.38" width="2.97" height="2.97" fill="#2a2a2a"/>
<rect x="374.26" y="384.48" width="2.97" height="2.97" fill="#2a2a2a"/>
<rect x="380.99" y="375.21" width="2.97" height="2.97" fill="#2a2a2a"/>
<rect x="387.73" y="363.66" width="2.97" height="2.97" fill="#2a2a2a"/>
<rect x="394.46" y="350.38" width="2.97" height="2.97" fill="#2a2a2a"/>
<rect x="401.19" y="336.19" width="2.97" height="2.97" fill="#2a2a2a"/>
<rect x="407.93" y="321.92" width="2.97" height="2.97" fill="#2a2a2a"/>
<rect x="414.66" y="308.22" width="2.97" height="2.97" fill="#2a2a2a"/>
<rect x="421.4" y="295.56" width="2.97" height="2.97" fill="#2a2a2a"/>
<rect x="428.13" y="284.2" width="2.97" height="2.97" fill="#2a2a2a"/>
<rect x="434.87" y="274.26" width="2.97" height="2.97" fill="#2a2a2a"/>
<rect x="441.6" y="265.71" width="2.97" height="2.97" fill="#2a2a2a"/>
<rect x="448.33" y="258.49" width="2.97" height="2.97" fill="#2a2a2a"/>
<rect x="455.07" y="252.47" width="2.97" height="2.97" fill="#2a2a2a"/>
<rect x="461.8" y="247.49" width="2.97" height="2.97" fill="#2a2a2a"/>
<rect x="468.54" y="243.4" width="2.97" height="2.97" fill="#2a2a2a"/>
<rect x="475.27" y="240.08" width="2.97" height="2.97" fill="#2a2a2a"/>
<rect x="482.01" y="237.38" width="2.97" height="2.97" fill="#2a2a2a"/>
<rect x="488.74" y="235.21" width="2.97" height="2.97" fill="#2a2a2a"/>
<rect x="495.47" y="233.46" width="2.97" height="2.97" fill="#2a2a2a"/>
<rect x="502.21" y="232.06" width="2.97" height="2.97" fill="#2a2a2a"/>
<rect x="508.94" y="230.93" width="2.97" height="2.97" fill="#2a2a2a"/>
<rect x="515.68" y="230.03" width="2.97" height="2.97" fill="#2a2a2a"/>
<rect x="522.41" y="229.32" width="2.97" height="2.97" fill="#2a2a2a"/>
<rect x="529.15" y="228.74" width="2.97" height="2.97" fill="#2a2a2a"/>
<rect x="535.88" y="228.29" width="2.97" height="2.97" fill="#2a2a2a"/>
<rect x="542.61" y="227.92" width="2.97" height="2.97" fill="#2a2a2a"/>
<polyline points="308.4,404.6 315.13,404.59 321.87,404.57 328.6,404.48 335.34,404.22 342.07,403.53 348.81,402.01 355.54,399.23 362.27,394.82 369.01,388.57 375.74,380.22 382.48,369.69 389.21,357.22 395.95,343.46 402.68,329.24 409.41,315.31 416.15,302.22 422.88,290.32 429.62,279.8 436.35,270.68 443.09,262.92 449.82,256.4 456.55,251 463.29,246.55 470.02,242.91 476.76,239.96 483.49,237.58 490.23,235.65 496.96,234.11 503.69,232.87 510.43,231.88 517.16,231.09 523.9,230.46 530.63,229.96 537.37,229.56 544.1,229.24" stroke="#ff4a4a" stroke-width="1.0"/>
<circle cx="308.4" cy="404.6" r="1.65" fill="#ff2020"/>
<circle cx="315.13" cy="404.59" r="1.65" fill="#ff2020"/>
<circle cx="321.87" cy="404.57" r="1.65" fill="#ff2020"/>
<circle cx="328.6" cy="404.48" r="1.65" fill="#ff2020"/>
<circle cx="335.34" cy="404.22" r="1.65" fill="#ff2020"/>
<circle cx="342.07" cy="403.53" r="1.65" fill="#ff2020"/>
<circle cx="348.81" cy="402.01" r="1.65" fill="#ff2020"/>
<circle cx="355.54" cy="399.23" r="1.65" fill="#ff2020"/>
<circle cx="362.27" cy="394.82" r="1.65" fill="#ff2020"/>
<circle cx="369.01" cy="388.57" r="1.65" fill="#ff2020"/>
<circle cx="375.74" cy="380.22" r="1.65" fill="#ff2020"/>
<circle cx="382.48" cy="369.69" r="1.65" fill="#ff2020"/>
<circle cx="389.21" cy="357.22" r="1.65" fill="#ff2020"/>
<circle cx="395.95" cy="343.46" r="1.65" fill="#ff2020"/>
<circle cx="402.68" cy="329.24" r="1.65" fill="#ff2020"/>
<circle cx="409.41" cy="315.31" r="1.65" fill="#ff2020"/>
<circle cx="416.15" cy="302.22" r="1.65" fill="#ff2020"/>
<circle cx="422.88" cy="290.32" r="1.65" fill="#ff2020"/>
<circle cx="429.62" cy="279.8" r="1.65" fill="#ff2020"/>
<circle cx="436.35" cy="270.68" r="1.65" fill="#ff2020"/>
<circle cx="443.09" cy="262.92" r="1.65" fill="#ff2020"/>
<circle cx="449.82" cy="256.4" r="1.65" fill="#ff2020"/>
<circle cx="456.55" cy="251" r="1.65" fill="#ff2020"/>
<circle cx="463.29" cy="246.55" r="1.65" fill="#ff2020"/>
<circle cx="470.02" cy="242.91" r="1.65" fill="#ff2020"/>
<circle cx="476.76" cy="239.96" r="1.65" fill="#ff2020"/>
<circle cx="483.49" cy="237.58" r="1.65" fill="#ff2020"/>
<circle cx="490.23" cy="235.65" r="1.65" fill="#ff2020"/>
<circle cx="496.96" cy="234.11" r="1.65" fill="#ff2020"/>
<circle cx="503.69" cy="232.87" r="1.65" fill="#ff2020"/>
<circle cx="510.43" cy="231.88" r="1.65" fill="#ff2020"/>
<circle cx="517.16" cy="231.09" r="1.65" fill="#ff2020"/>
<circle cx="523.9" cy="230.46" r="1.65" fill="#ff2020"/>
<circle cx="530.63" cy="229.96" r="1.65" fill="#ff2020"/>
<circle cx="537.37" cy="229.56" r="1.65" fill="#ff2020"/>
<circle cx="544.1" cy="229.24" r="1.65" fill="#ff2020"/>
<polyline points="308.4,404.6 315.13,404.6 321.87,404.59 328.6,404.55 335.34,404.4 342.07,403.96 348.81,402.94 355.54,400.96 362.27,397.69 369.01,392.81 375.74,385.88 382.48,376.6 389.21,365.03 395.95,351.74 402.68,337.55 409.41,323.28 416.15,309.59 422.88,296.94 429.62,285.6 436.35,275.66 443.09,267.13 449.82,259.92 456.55,253.91 463.29,248.93 470.02,244.86 476.76,241.54 483.49,238.85 490.23,236.68 496.96,234.93 503.69,233.53 510.43,232.41 517.16,231.51 523.9,230.79 530.63,230.22 537.37,229.77 544.1,229.41" stroke="#1f6fe8" stroke-width="0.9"/>
<path d="M308.4 402.62L310.21 405.92L306.58 405.92Z" fill="#1a62e6"/>
<path d="M315.13 402.62L316.95 405.92L313.32 405.92Z" fill="#1a62e6"/>
<path d="M321.87 402.61L323.68 405.91L320.05 405.91Z" fill="#1a62e6"/>
<path d="M328.6 402.57L330.42 405.87L326.79 405.87Z" fill="#1a62e6"/>
<path d="M335.34 402.42L337.15 405.72L333.52 405.72Z" fill="#1a62e6"/>
<path d="M342.07 401.98L343.89 405.28L340.26 405.28Z" fill="#1a62e6"/>
<path d="M348.81 400.96L350.62 404.26L346.99 404.26Z" fill="#1a62e6"/>
<path d="M355.54 398.98L357.35 402.28L353.72 402.28Z" fill="#1a62e6"/>
<path d="M362.27 395.71L364.09 399.01L360.46 399.01Z" fill="#1a62e6"/>
<path d="M369.01 390.83L370.82 394.13L367.19 394.13Z" fill="#1a62e6"/>
<path d="M375.74 383.9L377.56 387.2L373.93 387.2Z" fill="#1a62e6"/>
<path d="M382.48 374.62L384.29 377.92L380.66 377.92Z" fill="#1a62e6"/>
<path d="M389.21 363.05L391.03 366.35L387.4 366.35Z" fill="#1a62e6"/>
<path d="M395.95 349.76L397.76 353.06L394.13 353.06Z" fill="#1a62e6"/>
<path d="M402.68 335.57L404.49 338.87L400.86 338.87Z" fill="#1a62e6"/>
<path d="M409.41 321.3L411.23 324.6L407.6 324.6Z" fill="#1a62e6"/>
<path d="M416.15 307.61L417.96 310.91L414.33 310.91Z" fill="#1a62e6"/>
<path d="M422.88 294.96L424.7 298.26L421.07 298.26Z" fill="#1a62e6"/>
<path d="M429.62 283.62L431.43 286.92L427.8 286.92Z" fill="#1a62e6"/>
<path d="M436.35 273.68L438.17 276.98L434.54 276.98Z" fill="#1a62e6"/>
<path d="M443.09 265.15L444.9 268.45L441.27 268.45Z" fill="#1a62e6"/>
<path d="M449.82 257.94L451.63 261.24L448 261.24Z" fill="#1a62e6"/>
<path d="M456.55 251.93L458.37 255.23L454.74 255.23Z" fill="#1a62e6"/>
<path d="M463.29 246.95L465.1 250.25L461.47 250.25Z" fill="#1a62e6"/>
<path d="M470.02 242.88L471.84 246.18L468.21 246.18Z" fill="#1a62e6"/>
<path d="M476.76 239.56L478.57 242.86L474.94 242.86Z" fill="#1a62e6"/>
<path d="M483.49 236.87L485.31 240.17L481.68 240.17Z" fill="#1a62e6"/>
<path d="M490.23 234.7L492.04 238L488.41 238Z" fill="#1a62e6"/>
<path d="M496.96 232.95L498.77 236.25L495.14 236.25Z" fill="#1a62e6"/>
<path d="M503.69 231.55L505.51 234.85L501.88 234.85Z" fill="#1a62e6"/>
<path d="M510.43 230.43L512.24 233.73L508.61 233.73Z" fill="#1a62e6"/>
<path d="M517.16 229.53L518.98 232.83L515.35 232.83Z" fill="#1a62e6"/>
<path d="M523.9 228.81L525.71 232.11L522.08 232.11Z" fill="#1a62e6"/>
<path d="M530.63 228.24L532.45 231.54L528.82 231.54Z" fill="#1a62e6"/>
<path d="M537.37 227.79L539.18 231.09L535.55 231.09Z" fill="#1a62e6"/>
<path d="M544.1 227.43L545.91 230.73L542.28 230.73Z" fill="#1a62e6"/>
<polyline points="308.4,404.6 315.13,404.6 321.87,404.59 328.6,404.54 335.34,404.38 342.07,403.91 348.81,402.82 355.54,400.73 362.27,397.3 369.01,392.21 375.74,385.06 382.48,375.57 389.21,363.84 395.95,350.46 402.68,336.25 409.41,322.02 416.15,308.42 422.88,295.88 429.62,284.66 436.35,274.86 443.09,266.45 449.82,259.35 456.55,253.43 463.29,248.54 470.02,244.54 476.76,241.28 483.49,238.64 490.23,236.51 496.96,234.8 503.69,233.42 510.43,232.32 517.16,231.44 523.9,230.74 530.63,230.18 537.37,229.73 544.1,229.38" stroke="#22a35e" stroke-width="0.9"/>
<path d="M308.4 406.58L310.21 403.28L306.58 403.28Z" fill="#1c9c58"/>
<path d="M315.13 406.58L316.95 403.28L313.32 403.28Z" fill="#1c9c58"/>
<path d="M321.87 406.57L323.68 403.27L320.05 403.27Z" fill="#1c9c58"/>
<path d="M328.6 406.52L330.42 403.22L326.79 403.22Z" fill="#1c9c58"/>
<path d="M335.34 406.36L337.15 403.06L333.52 403.06Z" fill="#1c9c58"/>
<path d="M342.07 405.89L343.89 402.59L340.26 402.59Z" fill="#1c9c58"/>
<path d="M348.81 404.8L350.62 401.5L346.99 401.5Z" fill="#1c9c58"/>
<path d="M355.54 402.71L357.35 399.41L353.72 399.41Z" fill="#1c9c58"/>
<path d="M362.27 399.28L364.09 395.98L360.46 395.98Z" fill="#1c9c58"/>
<path d="M369.01 394.19L370.82 390.89L367.19 390.89Z" fill="#1c9c58"/>
<path d="M375.74 387.04L377.56 383.74L373.93 383.74Z" fill="#1c9c58"/>
<path d="M382.48 377.55L384.29 374.25L380.66 374.25Z" fill="#1c9c58"/>
<path d="M389.21 365.82L391.03 362.52L387.4 362.52Z" fill="#1c9c58"/>
<path d="M395.95 352.44L397.76 349.14L394.13 349.14Z" fill="#1c9c58"/>
<path d="M402.68 338.23L404.49 334.93L400.86 334.93Z" fill="#1c9c58"/>
<path d="M409.41 324L411.23 320.7L407.6 320.7Z" fill="#1c9c58"/>
<path d="M416.15 310.4L417.96 307.1L414.33 307.1Z" fill="#1c9c58"/>
<path d="M422.88 297.86L424.7 294.56L421.07 294.56Z" fill="#1c9c58"/>
<path d="M429.62 286.64L431.43 283.34L427.8 283.34Z" fill="#1c9c58"/>
<path d="M436.35 276.84L438.17 273.54L434.54 273.54Z" fill="#1c9c58"/>
<path d="M443.09 268.43L444.9 265.13L441.27 265.13Z" fill="#1c9c58"/>
<path d="M449.82 261.33L451.63 258.03L448 258.03Z" fill="#1c9c58"/>
<path d="M456.55 255.41L458.37 252.11L454.74 252.11Z" fill="#1c9c58"/>
<path d="M463.29 250.52L465.1 247.22L461.47 247.22Z" fill="#1c9c58"/>
<path d="M470.02 246.52L471.84 243.22L468.21 243.22Z" fill="#1c9c58"/>
<path d="M476.76 243.26L478.57 239.96L474.94 239.96Z" fill="#1c9c58"/>
<path d="M483.49 240.62L485.31 237.32L481.68 237.32Z" fill="#1c9c58"/>
<path d="M490.23 238.49L492.04 235.19L488.41 235.19Z" fill="#1c9c58"/>
<path d="M496.96 236.78L498.77 233.48L495.14 233.48Z" fill="#1c9c58"/>
<path d="M503.69 235.4L505.51 232.1L501.88 232.1Z" fill="#1c9c58"/>
<path d="M510.43 234.3L512.24 231L508.61 231Z" fill="#1c9c58"/>
<path d="M517.16 233.42L518.98 230.12L515.35 230.12Z" fill="#1c9c58"/>
<path d="M523.9 232.72L525.71 229.42L522.08 229.42Z" fill="#1c9c58"/>
<path d="M530.63 232.16L532.45 228.86L528.82 228.86Z" fill="#1c9c58"/>
<path d="M537.37 231.71L539.18 228.41L535.55 228.41Z" fill="#1c9c58"/>
<path d="M544.1 231.36L545.91 228.06L542.28 228.06Z" fill="#1c9c58"/>
<polyline points="308.4,404.59 315.13,404.58 321.87,404.53 328.6,404.39 335.34,404.01 342.07,403.07 348.81,401.13 355.54,397.7 362.27,392.47 369.01,384.23 375.74,374.3 382.48,363.41 389.21,349.61 395.95,335.34 402.68,323.87 409.41,309.9 416.15,296.97 422.88,285.39 429.62,275.28 436.35,266.62 443.09,259.34 449.82,253.29 456.55,248.43 463.29,244.45 470.02,241.21 476.76,238.59 483.49,236.47 490.23,234.76 496.96,233.4 503.69,232.3 510.43,231.43 517.16,230.73 523.9,230.17 530.63,229.73 537.37,229.37 544.1,229.09" stroke="#b583f2" stroke-width="1.0"/>
<path d="M308.4 402.16L310.45 404.59L308.4 407.03L306.35 404.59Z" fill="#a874f0"/>
<path d="M315.13 402.14L317.18 404.58L315.13 407.02L313.09 404.58Z" fill="#a874f0"/>
<path d="M321.87 402.1L323.92 404.53L321.87 406.97L319.82 404.53Z" fill="#a874f0"/>
<path d="M328.6 401.96L330.65 404.39L328.6 406.83L326.56 404.39Z" fill="#a874f0"/>
<path d="M335.34 401.57L337.38 404.01L335.34 406.44L333.29 404.01Z" fill="#a874f0"/>
<path d="M342.07 400.63L344.12 403.07L342.07 405.51L340.02 403.07Z" fill="#a874f0"/>
<path d="M348.81 398.69L350.85 401.13L348.81 403.57L346.76 401.13Z" fill="#a874f0"/>
<path d="M355.54 395.27L357.59 397.7L355.54 400.14L353.49 397.7Z" fill="#a874f0"/>
<path d="M362.27 390.04L364.32 392.47L362.27 394.91L360.23 392.47Z" fill="#a874f0"/>
<path d="M369.01 381.8L371.06 384.23L369.01 386.67L366.96 384.23Z" fill="#a874f0"/>
<path d="M375.74 371.87L377.79 374.3L375.74 376.74L373.7 374.3Z" fill="#a874f0"/>
<path d="M382.48 360.98L384.52 363.41L382.48 365.85L380.43 363.41Z" fill="#a874f0"/>
<path d="M389.21 347.17L391.26 349.61L389.21 352.05L387.16 349.61Z" fill="#a874f0"/>
<path d="M395.95 332.9L397.99 335.34L395.95 337.77L393.9 335.34Z" fill="#a874f0"/>
<path d="M402.68 321.43L404.73 323.87L402.68 326.31L400.63 323.87Z" fill="#a874f0"/>
<path d="M409.41 307.46L411.46 309.9L409.41 312.34L407.37 309.9Z" fill="#a874f0"/>
<path d="M416.15 294.53L418.2 296.97L416.15 299.41L414.1 296.97Z" fill="#a874f0"/>
<path d="M422.88 282.95L424.93 285.39L422.88 287.83L420.84 285.39Z" fill="#a874f0"/>
<path d="M429.62 272.84L431.66 275.28L429.62 277.71L427.57 275.28Z" fill="#a874f0"/>
<path d="M436.35 264.18L438.4 266.62L436.35 269.06L434.3 266.62Z" fill="#a874f0"/>
<path d="M443.09 256.9L445.13 259.34L443.09 261.78L441.04 259.34Z" fill="#a874f0"/>
<path d="M449.82 250.85L451.87 253.29L449.82 255.73L447.77 253.29Z" fill="#a874f0"/>
<path d="M456.55 245.99L458.6 248.43L456.55 250.87L454.51 248.43Z" fill="#a874f0"/>
<path d="M463.29 242.02L465.34 244.45L463.29 246.89L461.24 244.45Z" fill="#a874f0"/>
<path d="M470.02 238.77L472.07 241.21L470.02 243.65L467.98 241.21Z" fill="#a874f0"/>
<path d="M476.76 236.15L478.8 238.59L476.76 241.02L474.71 238.59Z" fill="#a874f0"/>
<path d="M483.49 234.03L485.54 236.47L483.49 238.9L481.44 236.47Z" fill="#a874f0"/>
<path d="M490.23 232.33L492.27 234.76L490.23 237.2L488.18 234.76Z" fill="#a874f0"/>
<path d="M496.96 230.96L499.01 233.4L496.96 235.83L494.91 233.4Z" fill="#a874f0"/>
<path d="M503.69 229.86L505.74 232.3L503.69 234.74L501.65 232.3Z" fill="#a874f0"/>
<path d="M510.43 228.99L512.48 231.43L510.43 233.86L508.38 231.43Z" fill="#a874f0"/>
<path d="M517.16 228.29L519.21 230.73L517.16 233.16L515.12 230.73Z" fill="#a874f0"/>
<path d="M523.9 227.73L525.94 230.17L523.9 232.61L521.85 230.17Z" fill="#a874f0"/>
<path d="M530.63 227.29L532.68 229.73L530.63 232.16L528.58 229.73Z" fill="#a874f0"/>
<path d="M537.37 226.94L539.41 229.37L537.37 231.81L535.32 229.37Z" fill="#a874f0"/>
<path d="M544.1 226.65L546.15 229.09L544.1 231.53L542.05 229.09Z" fill="#a874f0"/>
<polyline points="308.4,404.59 315.13,404.58 321.87,404.53 328.6,404.38 335.34,403.98 342.07,403.02 348.81,401.04 355.54,397.55 362.27,392.25 369.01,384.99 375.74,375.69 382.48,364.39 389.21,351.43 395.95,337.51 402.68,323.4 409.41,309.81 416.15,297.21 422.88,285.88 429.62,275.94 436.35,267.39 443.09,260.16 449.82,254.11 456.55,249.11 463.29,245 470.02,241.66 476.76,238.95 483.49,236.76 490.23,235 496.96,233.58 503.69,232.45 510.43,231.55 517.16,230.82 523.9,230.25 530.63,229.79 537.37,229.42 544.1,229.13" stroke="#d49a17" stroke-width="0.9"/>
<path d="M308.4 402.53L310.13 404.59L308.4 406.66L306.67 404.59Z" fill="#d09512"/>
<path d="M315.13 402.52L316.87 404.58L315.13 406.64L313.4 404.58Z" fill="#d09512"/>
<path d="M321.87 402.47L323.6 404.53L321.87 406.59L320.14 404.53Z" fill="#d09512"/>
<path d="M328.6 402.32L330.34 404.38L328.6 406.45L326.87 404.38Z" fill="#d09512"/>
<path d="M335.34 401.92L337.07 403.98L335.34 406.05L333.6 403.98Z" fill="#d09512"/>
<path d="M342.07 400.96L343.8 403.02L342.07 405.09L340.34 403.02Z" fill="#d09512"/>
<path d="M348.81 398.98L350.54 401.04L348.81 403.1L347.07 401.04Z" fill="#d09512"/>
<path d="M355.54 395.49L357.27 397.55L355.54 399.62L353.81 397.55Z" fill="#d09512"/>
<path d="M362.27 390.19L364.01 392.25L362.27 394.31L360.54 392.25Z" fill="#d09512"/>
<path d="M369.01 382.93L370.74 384.99L369.01 387.05L367.28 384.99Z" fill="#d09512"/>
<path d="M375.74 373.63L377.48 375.69L375.74 377.76L374.01 375.69Z" fill="#d09512"/>
<path d="M382.48 362.33L384.21 364.39L382.48 366.45L380.74 364.39Z" fill="#d09512"/>
<path d="M389.21 349.37L390.94 351.43L389.21 353.5L387.48 351.43Z" fill="#d09512"/>
<path d="M395.95 335.44L397.68 337.51L395.95 339.57L394.21 337.51Z" fill="#d09512"/>
<path d="M402.68 321.34L404.41 323.4L402.68 325.47L400.95 323.4Z" fill="#d09512"/>
<path d="M409.41 307.75L411.15 309.81L409.41 311.87L407.68 309.81Z" fill="#d09512"/>
<path d="M416.15 295.15L417.88 297.21L416.15 299.27L414.42 297.21Z" fill="#d09512"/>
<path d="M422.88 283.82L424.62 285.88L422.88 287.94L421.15 285.88Z" fill="#d09512"/>
<path d="M429.62 273.88L431.35 275.94L429.62 278L427.88 275.94Z" fill="#d09512"/>
<path d="M436.35 265.33L438.08 267.39L436.35 269.45L434.62 267.39Z" fill="#d09512"/>
<path d="M443.09 258.09L444.82 260.16L443.09 262.22L441.35 260.16Z" fill="#d09512"/>
<path d="M449.82 252.05L451.55 254.11L449.82 256.17L448.09 254.11Z" fill="#d09512"/>
<path d="M456.55 247.04L458.29 249.11L456.55 251.17L454.82 249.11Z" fill="#d09512"/>
<path d="M463.29 242.94L465.02 245L463.29 247.07L461.56 245Z" fill="#d09512"/>
<path d="M470.02 239.6L471.76 241.66L470.02 243.72L468.29 241.66Z" fill="#d09512"/>
<path d="M476.76 236.88L478.49 238.95L476.76 241.01L475.02 238.95Z" fill="#d09512"/>
<path d="M483.49 234.7L485.22 236.76L483.49 238.82L481.76 236.76Z" fill="#d09512"/>
<path d="M490.23 232.93L491.96 235L490.23 237.06L488.49 235Z" fill="#d09512"/>
<path d="M496.96 231.52L498.69 233.58L496.96 235.65L495.23 233.58Z" fill="#d09512"/>
<path d="M503.69 230.39L505.43 232.45L503.69 234.51L501.96 232.45Z" fill="#d09512"/>
<path d="M510.43 229.48L512.16 231.55L510.43 233.61L508.7 231.55Z" fill="#d09512"/>
<path d="M517.16 228.76L518.9 230.82L517.16 232.89L515.43 230.82Z" fill="#d09512"/>
<path d="M523.9 228.18L525.63 230.25L523.9 232.31L522.16 230.25Z" fill="#d09512"/>
<path d="M530.63 227.72L532.36 229.79L530.63 231.85L528.9 229.79Z" fill="#d09512"/>
<path d="M537.37 227.36L539.1 229.42L537.37 231.48L535.63 229.42Z" fill="#d09512"/>
<path d="M544.1 227.07L545.83 229.13L544.1 231.19L542.37 229.13Z" fill="#d09512"/>
</g>
<rect x="308.4" y="228" width="235.7" height="176.6" fill="none" stroke="#2b2b2b" stroke-width="1.2"/>
<path d="M308.4 404.6v-3.2M308.4 228v3.2M342.07 404.6v-3.2M342.07 228v3.2M375.74 404.6v-3.2M375.74 228v3.2M409.41 404.6v-3.2M409.41 228v3.2M443.09 404.6v-3.2M443.09 228v3.2M476.76 404.6v-3.2M476.76 228v3.2M510.43 404.6v-3.2M510.43 228v3.2M544.1 404.6v-3.2M544.1 228v3.2M308.4 404.6h3.2M544.1 404.6h-3.2M308.4 386.94h3.2M544.1 386.94h-3.2M308.4 369.28h3.2M544.1 369.28h-3.2M308.4 351.62h3.2M544.1 351.62h-3.2M308.4 333.96h3.2M544.1 333.96h-3.2M308.4 316.3h3.2M544.1 316.3h-3.2M308.4 298.64h3.2M544.1 298.64h-3.2M308.4 280.98h3.2M544.1 280.98h-3.2M308.4 263.32h3.2M544.1 263.32h-3.2M308.4 245.66h3.2M544.1 245.66h-3.2M308.4 228h3.2M544.1 228h-3.2" stroke="#2b2b2b" stroke-width="1.1" fill="none"/>
<g font-family="'Liberation Serif', 'Times New Roman', serif" font-size="7.9" fill="#262626" stroke="#262626" stroke-width="0.28" letter-spacing="-0.08"><text x="308.4" y="415.2" text-anchor="middle">0</text><text x="342.07" y="415.2" text-anchor="middle">5</text><text x="375.74" y="415.2" text-anchor="middle">10</text><text x="409.41" y="415.2" text-anchor="middle">15</text><text x="443.09" y="415.2" text-anchor="middle">20</text><text x="476.76" y="415.2" text-anchor="middle">25</text><text x="510.43" y="415.2" text-anchor="middle">30</text><text x="544.1" y="415.2" text-anchor="middle">35</text><text x="304.5" y="407.7" text-anchor="end">0. 0</text><text x="304.5" y="390.04" text-anchor="end">0. 1</text><text x="304.5" y="372.38" text-anchor="end">0. 2</text><text x="304.5" y="354.72" text-anchor="end">0. 3</text><text x="304.5" y="337.06" text-anchor="end">0. 4</text><text x="304.5" y="319.4" text-anchor="end">0. 5</text><text x="304.5" y="301.74" text-anchor="end">0. 6</text><text x="304.5" y="284.08" text-anchor="end">0. 7</text><text x="304.5" y="266.42" text-anchor="end">0. 8</text><text x="304.5" y="248.76" text-anchor="end">0. 9</text><text x="304.5" y="231.1" text-anchor="end">1. 0</text></g>
<text x="426.45" y="427.1" text-anchor="middle" font-family="'Liberation Serif', 'Times New Roman', serif" font-size="9.1" fill="#111" stroke="#111" stroke-width="0.22">SNR/ (dB)</text>
<text transform="translate(289.5 316.2) rotate(-90)" text-anchor="middle" font-family="'Liberation Serif', 'Times New Roman', serif" font-size="8.95" fill="#111" stroke="#111" stroke-width="0.22">Detection probability</text>
<text x="414.75" y="441.7" text-anchor="middle" font-family="'Liberation Serif', 'Times New Roman', serif" font-size="11" font-weight="bold" fill="#111" letter-spacing="0.2">(d)</text>
<rect x="315" y="232.2" width="75.2" height="56.8" fill="#fff" stroke="#a8a8a8" stroke-width="0.9"/>
<line x1="315.6" y1="237.8" x2="333.6" y2="237.8" stroke="#3a3a3a" stroke-width="1.0"/>
<rect x="323.03" y="236.22" width="3.15" height="3.15" fill="#2a2a2a"/>
<text x="335.5" y="240" font-family="'Liberation Serif', 'Times New Roman', serif" font-size="7.35" fill="#1a1a1a" stroke="#1a1a1a" stroke-width="0.4" letter-spacing="0.05">KLQ-CFAR</text>
<line x1="315.6" y1="247.13" x2="333.6" y2="247.13" stroke="#ff4a4a" stroke-width="1.1"/>
<circle cx="324.6" cy="247.13" r="1.75" fill="#ff2020"/>
<text x="335.5" y="249.33" font-family="'Liberation Serif', 'Times New Roman', serif" font-size="7.35" fill="#1a1a1a" stroke="#1a1a1a" stroke-width="0.4" letter-spacing="0.05">MAXKLQ-CFAR</text>
<line x1="315.6" y1="256.46" x2="333.6" y2="256.46" stroke="#1f6fe8" stroke-width="1.0"/>
<path d="M324.6 254.36L326.53 257.86L322.68 257.86Z" fill="#1a62e6"/>
<text x="335.5" y="258.66" font-family="'Liberation Serif', 'Times New Roman', serif" font-size="7.35" fill="#1a1a1a" stroke="#1a1a1a" stroke-width="0.4" letter-spacing="0.05">MINKLQ-CFAR</text>
<line x1="315.6" y1="265.79" x2="333.6" y2="265.79" stroke="#22a35e" stroke-width="1.0"/>
<path d="M324.6 267.89L326.53 264.39L322.68 264.39Z" fill="#1c9c58"/>
<text x="335.5" y="267.99" font-family="'Liberation Serif', 'Times New Roman', serif" font-size="7.35" fill="#1a1a1a" stroke="#1a1a1a" stroke-width="0.4" letter-spacing="0.05">APKLQ-CFAR</text>
<line x1="315.6" y1="275.12" x2="333.6" y2="275.12" stroke="#b583f2" stroke-width="1.1"/>
<path d="M324.6 272.93L326.44 275.12L324.6 277.31L322.76 275.12Z" fill="#a874f0"/>
<text x="335.5" y="277.32" font-family="'Liberation Serif', 'Times New Roman', serif" font-size="7.35" fill="#1a1a1a" stroke="#1a1a1a" stroke-width="0.4" letter-spacing="0.05">ASKLQ-CFAR</text>
<line x1="315.6" y1="284.45" x2="333.6" y2="284.45" stroke="#d49a17" stroke-width="1.0"/>
<path d="M324.6 282.26L326.44 284.45L324.6 286.64L322.76 284.45Z" fill="#d09512"/>
<text x="335.5" y="286.65" font-family="'Liberation Serif', 'Times New Roman', serif" font-size="7.35" fill="#1a1a1a" stroke="#1a1a1a" stroke-width="0.4" letter-spacing="0.05">CFKLQ-CFAR</text>
<rect x="394.4" y="309.4" width="22.2" height="20.2" fill="none" stroke="#111" stroke-width="1.2"/>
<path d="M394.4 329.6L403.5 345.5M416.6 329.6L467.2 345.5" stroke="#111" stroke-width="1.2" fill="none"/>
<rect x="403.5" y="345.5" width="63.7" height="48.8" fill="#fff"/>
<clipPath id="clipid"><rect x="403.5" y="345.5" width="63.7" height="48.8"/></clipPath>
<g clip-path="url(#clipid)" fill="none" stroke-linejoin="round">
<polyline points="369.29,508.08 388.61,480.17 407.94,448.08 427.26,413.81 446.58,379.33 465.9,346.25 485.23,315.66 504.55,288.22" stroke="#3a3a3a" stroke-width="0.9500000000000001"/>
<polyline points="369.29,491.15 388.61,461.02 407.94,427.79 427.26,393.44 446.58,359.78 465.9,328.15 485.23,299.41 504.55,273.98" stroke="#ff4a4a" stroke-width="1.05"/>
<polyline points="369.29,507.84 388.61,479.89 407.94,447.78 427.26,413.5 446.58,379.03 465.9,345.97 485.23,315.4 504.55,287.99" stroke="#1f6fe8" stroke-width="0.9500000000000001"/>
<polyline points="369.29,505.35 388.61,477.02 407.94,444.69 427.26,410.37 446.58,376 465.9,343.14 485.23,312.85 504.55,285.74" stroke="#22a35e" stroke-width="0.9500000000000001"/>
<polyline points="369.29,475.99 388.61,442.64 407.94,408.16 427.26,380.45 446.58,346.7 465.9,315.48 485.23,287.5 504.55,263.06" stroke="#b583f2" stroke-width="1.05"/>
<polyline points="369.29,478.35 388.61,447.05 407.94,413.4 427.26,379.33 446.58,346.49 465.9,316.05 485.23,288.68 504.55,264.67" stroke="#d49a17" stroke-width="0.9500000000000001"/>
</g>
<rect x="403.5" y="345.5" width="63.7" height="48.8" fill="none" stroke="#4a4a4a" stroke-width="0.85"/>
<path d="M407.94 394.3v-1.2M407.94 345.5v1.2M417.6 394.3v-1.2M417.6 345.5v1.2M427.26 394.3v-1.2M427.26 345.5v1.2M436.92 394.3v-1.2M436.92 345.5v1.2M446.58 394.3v-1.2M446.58 345.5v1.2M456.24 394.3v-1.2M456.24 345.5v1.2M465.9 394.3v-1.2M465.9 345.5v1.2M403.5 383.5h1.2M467.2 383.5h-1.2M403.5 362.17h1.2M467.2 362.17h-1.2" stroke="#444" stroke-width="0.5" fill="none"/>
<g font-family="'Liberation Serif', 'Times New Roman', serif" font-size="2.9" fill="#666"><text x="407.94" y="397.7" text-anchor="middle">13.0</text><text x="417.6" y="397.7" text-anchor="middle">13.5</text><text x="427.26" y="397.7" text-anchor="middle">14.0</text><text x="436.92" y="397.7" text-anchor="middle">14.5</text><text x="446.58" y="397.7" text-anchor="middle">15.0</text><text x="456.24" y="397.7" text-anchor="middle">15.5</text><text x="465.9" y="397.7" text-anchor="middle">16.0</text><text x="401.9" y="384.3" text-anchor="end">0.45</text><text x="401.9" y="362.97" text-anchor="end">0.50</text></g>
</svg>
</body></html>
